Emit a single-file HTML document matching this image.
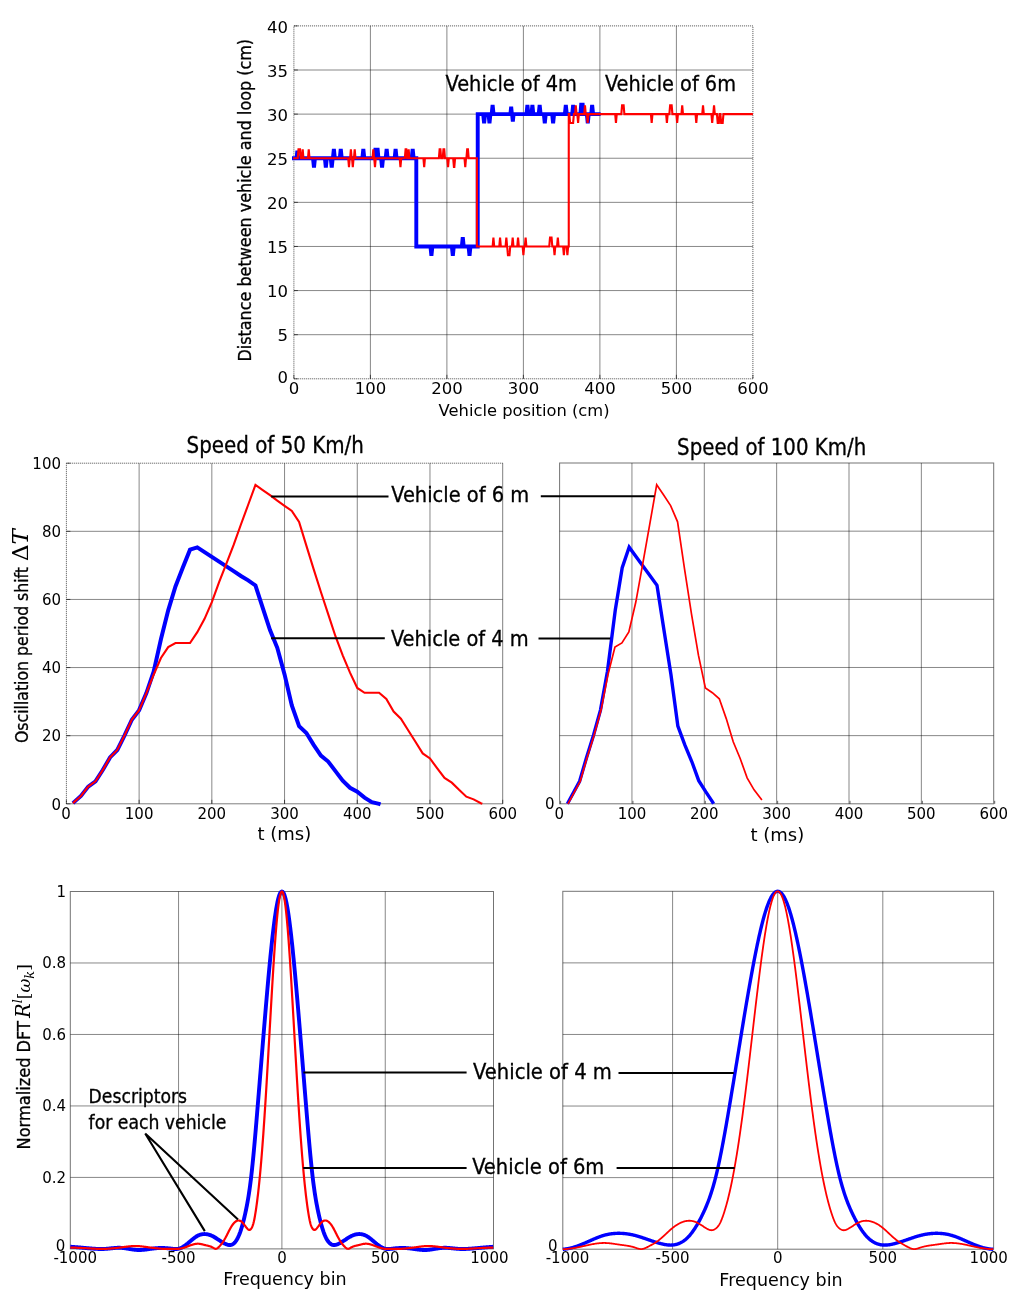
<!DOCTYPE html>
<html lang="en"><head><meta charset="utf-8"><title>Vehicle inductive loop signatures</title>
<style>html,body{margin:0;padding:0;background:#fff}svg{display:block}text{fill:#000}</style>
</head><body>
<svg width="1024" height="1303" viewBox="0 0 1024 1303">
<rect width="1024" height="1303" fill="#fff"/>
<path d="M370.4 25.9V378.8M446.9 25.9V378.8M523.4 25.9V378.8M599.9 25.9V378.8M676.4 25.9V378.8M293.9 334.69H752.9M293.9 290.57H752.9M293.9 246.46H752.9M293.9 202.35H752.9M293.9 158.24H752.9M293.9 114.12H752.9M293.9 70.01H752.9" stroke="#000" stroke-opacity="0.47" stroke-width="1" fill="none"/>
<rect x="293.9" y="25.9" width="459" height="352.9" fill="none" stroke="#000" stroke-width="1" stroke-dasharray="1 1" stroke-opacity="0.7"/>
<path d="M293.9 378.8v-4M370.4 378.8v-4M446.9 378.8v-4M523.4 378.8v-4M599.9 378.8v-4M676.4 378.8v-4M752.9 378.8v-4M293.9 378.8h4M293.9 334.69h4M293.9 290.57h4M293.9 246.46h4M293.9 202.35h4M293.9 158.24h4M293.9 114.12h4M293.9 70.01h4M293.9 25.9h4" stroke="#000" stroke-width="0.6" fill="none"/>
<path d="M291.99 158.24 L296.58 158.24 L297.34 150.74 L298.11 158.24 L313.02 158.24 L313.79 165.74 L314.17 165.74 L314.94 158.24 L324.88 158.24 L325.65 165.74 L326.03 165.74 L326.79 158.24 L330.77 158.24 L331.54 165.74 L331.92 165.74 L332.69 158.24 L332.91 158.24 L333.68 150.74 L334.06 150.74 L334.83 158.24 L339.8 158.24 L340.56 150.74 L340.95 150.74 L341.71 158.24 L362.37 158.24 L363.13 150.74 L363.51 150.74 L364.28 158.24 L374.61 158.24 L375.37 149.61 L377.67 149.61 L378.43 158.24 L381.11 158.24 L381.88 165.74 L382.26 165.74 L383.02 158.24 L385.7 158.24 L386.46 150.74 L386.85 150.74 L387.61 158.24 L394.65 158.24 L395.42 150.74 L395.8 150.74 L396.56 158.24 L411.71 158.24 L412.47 150.74 L412.86 150.74 L413.62 158.24 L416.3 158.24 L416.3 246.46 L430.45 246.46 L431.22 253.96 L431.6 253.96 L432.37 246.46 L451.87 246.46 L452.64 253.96 L453.02 253.96 L453.78 246.46 L461.82 246.46 L462.58 238.96 L462.96 238.96 L463.73 246.46 L468.55 246.46 L469.31 253.96 L469.7 253.96 L470.46 246.46 L477.73 246.46 L477.73 114.12 L483.16 114.12 L483.93 121.62 L484.31 121.62 L485.07 114.12 L488.52 114.12 L489.28 121.62 L489.66 121.62 L490.43 114.12 L491.65 114.12 L492.42 106.63 L492.8 106.63 L493.56 114.12 L510.39 114.12 L511.16 106.63 L511.92 114.12 L512.08 114.12 L512.84 121.62 L513.61 114.12 L526.46 114.12 L527.22 106.63 L527.61 106.63 L528.37 114.12 L531.43 114.12 L532.2 106.63 L532.58 106.63 L533.35 114.12 L538.7 114.12 L539.46 106.63 L539.85 106.63 L540.61 114.12 L543.83 114.12 L544.59 121.62 L544.97 121.62 L545.74 114.12 L552.16 114.12 L552.93 121.62 L553.31 121.62 L554.08 114.12 L564.86 114.12 L565.63 106.63 L566.01 106.63 L566.78 114.12 L572.21 114.12 L572.97 106.63 L573.35 106.63 L574.12 114.12 L580.39 114.12 L581.16 104.75 L582.69 104.75 L583.45 114.12 L586.82 114.12 L587.58 121.62 L587.97 121.62 L588.73 114.12 L591.18 114.12 L591.94 106.63 L592.33 106.63 L593.09 114.12 L600.66 114.12" stroke="#0000ff" stroke-width="3.9" fill="none" stroke-linejoin="miter" stroke-miterlimit="2" stroke-linecap="butt"/>
<path d="M293.13 158.24 L297.72 158.24 L298.49 149.41 L300.02 149.41 L300.78 158.24 L301.93 158.24 L302.7 149.41 L303.46 158.24 L307.98 158.24 L308.74 149.41 L309.51 158.24 L348.21 158.24 L348.98 167.06 L349.75 158.24 L350.13 158.24 L350.89 149.41 L351.66 158.24 L352.04 158.24 L352.8 167.06 L353.57 158.24 L353.95 158.24 L354.72 149.41 L355.48 158.24 L372.54 158.24 L373.31 149.41 L374.07 158.24 L374.22 158.24 L374.99 167.06 L375.75 158.24 L399.7 158.24 L400.46 167.06 L401.23 158.24 L404.82 158.24 L405.59 149.41 L406.35 149.41 L407.12 158.24 L407.88 158.24 L408.65 149.41 L409.41 158.24 L423.41 158.24 L424.18 167.06 L424.94 158.24 L438.87 158.24 L439.63 149.41 L440.4 149.41 L441.16 158.24 L442.69 158.24 L443.46 149.41 L444.22 149.41 L444.99 158.24 L447.28 158.24 L448.05 167.06 L448.81 158.24 L453.17 158.24 L453.94 167.06 L454.32 167.06 L455.09 158.24 L464.5 158.24 L465.26 167.06 L466.02 158.24 L466.41 158.24 L467.17 149.41 L467.94 149.41 L468.7 158.24 L476.89 158.24 L476.89 246.46 L492.65 246.46 L493.41 237.64 L494.18 246.46 L499.3 246.46 L500.07 237.64 L500.83 246.46 L505.58 246.46 L506.34 237.64 L507.11 246.46 L507.18 246.46 L507.95 255.28 L509.48 255.28 L510.24 246.46 L511.92 246.46 L512.69 237.64 L513.45 246.46 L517.28 246.46 L518.04 237.64 L518.81 246.46 L522.63 246.46 L523.4 255.28 L524.16 246.46 L524.85 246.46 L525.62 237.64 L526.38 246.46 L549.26 246.46 L550.02 237.64 L551.55 237.64 L552.32 246.46 L553.77 246.46 L554.54 255.28 L555.3 246.46 L557.06 246.46 L557.83 237.64 L558.59 246.46 L563.1 246.46 L563.87 255.28 L564.63 246.46 L566.62 246.46 L567.39 255.28 L568.15 246.46 L568.76 246.46 L568.76 114.12 L569.3 114.12 L570.07 122.95 L573.12 122.95 L573.89 114.12 L575.04 114.12 L575.8 105.3 L576.57 114.12 L577.33 114.12 L578.1 122.95 L578.86 114.12 L584.22 114.12 L584.98 105.3 L585.75 114.12 L586.89 114.12 L587.66 122.95 L588.42 114.12 L615.2 114.12 L615.96 122.95 L616.73 114.12 L621.32 114.12 L622.09 105.3 L623.62 105.3 L624.38 114.12 L650.93 114.12 L651.69 122.95 L652.46 114.12 L666.15 114.12 L666.91 122.95 L667.68 114.12 L669.36 114.12 L670.13 105.3 L671.66 105.3 L672.42 114.12 L676.4 114.12 L677.16 122.95 L677.93 114.12 L681.45 114.12 L682.21 105.3 L682.98 114.12 L695.52 114.12 L696.29 122.95 L697.05 114.12 L702.26 114.12 L703.02 105.3 L703.79 114.12 L711.44 114.12 L712.2 122.95 L712.97 114.12 L713.27 114.12 L714.04 105.3 L714.8 114.12 L716.94 114.12 L717.71 122.95 L718.86 122.95 L719.62 114.12 L720.39 114.12 L721.15 122.95 L722.68 122.95 L723.45 114.12 L752.9 114.12" stroke="#ff0000" stroke-width="2.1" fill="none" stroke-linejoin="miter" stroke-miterlimit="2" stroke-linecap="butt"/>
<text x="288" y="383.3" font-family='"DejaVu Sans","Liberation Sans",sans-serif' font-size="16.5" text-anchor="end" >0</text>
<text x="288" y="341.49" font-family='"DejaVu Sans","Liberation Sans",sans-serif' font-size="16.5" text-anchor="end" >5</text>
<text x="288" y="297.38" font-family='"DejaVu Sans","Liberation Sans",sans-serif' font-size="16.5" text-anchor="end" >10</text>
<text x="288" y="253.26" font-family='"DejaVu Sans","Liberation Sans",sans-serif' font-size="16.5" text-anchor="end" >15</text>
<text x="288" y="209.15" font-family='"DejaVu Sans","Liberation Sans",sans-serif' font-size="16.5" text-anchor="end" >20</text>
<text x="288" y="165.04" font-family='"DejaVu Sans","Liberation Sans",sans-serif' font-size="16.5" text-anchor="end" >25</text>
<text x="288" y="120.92" font-family='"DejaVu Sans","Liberation Sans",sans-serif' font-size="16.5" text-anchor="end" >30</text>
<text x="288" y="76.81" font-family='"DejaVu Sans","Liberation Sans",sans-serif' font-size="16.5" text-anchor="end" >35</text>
<text x="288" y="32.7" font-family='"DejaVu Sans","Liberation Sans",sans-serif' font-size="16.5" text-anchor="end" >40</text>
<text x="293.9" y="393.6" font-family='"DejaVu Sans","Liberation Sans",sans-serif' font-size="16.5" text-anchor="middle" >0</text>
<text x="370.4" y="393.6" font-family='"DejaVu Sans","Liberation Sans",sans-serif' font-size="16.5" text-anchor="middle" >100</text>
<text x="446.9" y="393.6" font-family='"DejaVu Sans","Liberation Sans",sans-serif' font-size="16.5" text-anchor="middle" >200</text>
<text x="523.4" y="393.6" font-family='"DejaVu Sans","Liberation Sans",sans-serif' font-size="16.5" text-anchor="middle" >300</text>
<text x="599.9" y="393.6" font-family='"DejaVu Sans","Liberation Sans",sans-serif' font-size="16.5" text-anchor="middle" >400</text>
<text x="676.4" y="393.6" font-family='"DejaVu Sans","Liberation Sans",sans-serif' font-size="16.5" text-anchor="middle" >500</text>
<text x="752.9" y="393.6" font-family='"DejaVu Sans","Liberation Sans",sans-serif' font-size="16.5" text-anchor="middle" >600</text>
<text x="524.1" y="415.6" font-family='"DejaVu Sans","Liberation Sans",sans-serif' font-size="16.5" text-anchor="middle" textLength="171" lengthAdjust="spacingAndGlyphs" >Vehicle position (cm)</text>
<text transform="translate(250.9 361.6) rotate(-90)" font-family='"DejaVu Sans Condensed","DejaVu Sans","Liberation Sans",sans-serif' font-size="17.8" text-anchor="start" textLength="322.7" lengthAdjust="spacingAndGlyphs" stroke="#000" stroke-width="0.3">Distance between vehicle and loop (cm)</text>
<text x="445.6" y="91.3" font-family='"DejaVu Sans Condensed","DejaVu Sans","Liberation Sans",sans-serif' font-size="22" text-anchor="start" textLength="131.3" lengthAdjust="spacingAndGlyphs"  stroke="#000" stroke-width="0.3">Vehicle of 4m</text>
<text x="605" y="91.3" font-family='"DejaVu Sans Condensed","DejaVu Sans","Liberation Sans",sans-serif' font-size="22" text-anchor="start" textLength="131" lengthAdjust="spacingAndGlyphs"  stroke="#000" stroke-width="0.3">Vehicle of 6m</text>
<path d="M139.12 463.2V803.8M211.83 463.2V803.8M284.55 463.2V803.8M357.27 463.2V803.8M429.98 463.2V803.8M66.4 735.68H502.7M66.4 667.56H502.7M66.4 599.44H502.7M66.4 531.32H502.7" stroke="#000" stroke-opacity="0.47" stroke-width="1" fill="none"/>
<path d="M66.4 803.8V463.2H502.7" fill="none" stroke="#000" stroke-width="1" stroke-dasharray="1 1" stroke-opacity="0.7"/>
<path d="M66.4 803.8H502.7V463.2" fill="none" stroke="#000" stroke-width="1" stroke-opacity="0.5"/>
<path d="M66.4 803.8v-4M139.12 803.8v-4M211.83 803.8v-4M284.55 803.8v-4M357.27 803.8v-4M429.98 803.8v-4M502.7 803.8v-4M66.4 803.8h4M66.4 735.68h4M66.4 667.56h4M66.4 599.44h4M66.4 531.32h4M66.4 463.2h4" stroke="#000" stroke-width="0.6" fill="none"/>
<path d="M72.94 803.12 L80.94 795.97 L88.22 786.6 L95.49 781.32 L102.76 770.08 L110.03 757.48 L117.3 749.99 L124.57 735.34 L131.84 719.67 L139.12 710.13 L146.39 693.11 L153.66 671.65 L160.93 639.29 L168.2 610.34 L175.47 586.5 L182.75 567.76 L190.02 549.71 L197.29 547.33 L204.56 552.1 L211.83 556.87 L219.1 561.63 L226.38 566.4 L233.65 571.17 L240.92 575.94 L248.19 580.37 L255.46 585.48 L262.74 607.95 L270.01 630.09 L277.28 647.81 L284.55 674.37 L291.82 705.37 L299.09 726.14 L306.36 732.96 L313.64 744.88 L320.91 755.61 L328.18 761.57 L335.45 771.1 L342.72 780.64 L350 787.79 L357.27 791.71 L364.54 797.67 L371.81 802.1 L379.08 803.8 L380.54 804.31" stroke="#0000ff" stroke-width="4.0" fill="none" stroke-linejoin="miter" stroke-miterlimit="4" stroke-linecap="butt"/>
<path d="M72.94 803.12 L80.94 795.97 L88.22 786.6 L95.49 781.32 L102.76 770.08 L110.03 757.48 L117.3 749.99 L124.57 735.34 L131.84 719.67 L139.12 710.13 L146.39 693.11 L153.66 674.71 L160.93 658.02 L168.2 647.12 L175.47 643.04 L182.75 643.04 L190.02 643.04 L197.29 632.14 L204.56 618.85 L211.83 602.16 L219.1 582.07 L226.38 563.68 L233.65 544.94 L240.92 524.51 L248.19 504.75 L255.46 485 L262.74 490.11 L270.01 495.22 L277.28 500.67 L284.55 505.77 L291.82 510.88 L299.09 521.95 L306.36 545.63 L313.64 569.13 L320.91 591.95 L328.18 614.09 L335.45 636.22 L342.72 655.3 L350 672.67 L357.27 688 L364.54 692.76 L371.81 692.76 L379.08 692.76 L386.35 698.9 L393.62 711.5 L400.9 718.65 L408.17 730.23 L415.44 741.81 L422.71 753.39 L429.98 758.5 L437.25 768.38 L444.53 777.91 L451.8 782.68 L459.07 789.84 L466.34 796.65 L473.61 799.37 L480.88 803.29 L482.34 803.8" stroke="#ff0000" stroke-width="2.1" fill="none" stroke-linejoin="miter" stroke-miterlimit="4" stroke-linecap="butt"/>
<path d="M271.2 496.4H388.5" stroke="#000" stroke-width="2" fill="none"/>
<path d="M271.1 638.2H384.8" stroke="#000" stroke-width="2" fill="none"/>
<text x="61" y="810" font-family='"DejaVu Sans","Liberation Sans",sans-serif' font-size="15" text-anchor="end" >0</text>
<text x="61" y="741.48" font-family='"DejaVu Sans","Liberation Sans",sans-serif' font-size="15" text-anchor="end" >20</text>
<text x="61" y="673.36" font-family='"DejaVu Sans","Liberation Sans",sans-serif' font-size="15" text-anchor="end" >40</text>
<text x="61" y="605.24" font-family='"DejaVu Sans","Liberation Sans",sans-serif' font-size="15" text-anchor="end" >60</text>
<text x="61" y="537.12" font-family='"DejaVu Sans","Liberation Sans",sans-serif' font-size="15" text-anchor="end" >80</text>
<text x="61" y="469" font-family='"DejaVu Sans","Liberation Sans",sans-serif' font-size="15" text-anchor="end" >100</text>
<text x="66.1" y="818.5" font-family='"DejaVu Sans","Liberation Sans",sans-serif' font-size="15" text-anchor="middle" >0</text>
<text x="139.12" y="818.5" font-family='"DejaVu Sans","Liberation Sans",sans-serif' font-size="15" text-anchor="middle" >100</text>
<text x="211.83" y="818.5" font-family='"DejaVu Sans","Liberation Sans",sans-serif' font-size="15" text-anchor="middle" >200</text>
<text x="284.55" y="818.5" font-family='"DejaVu Sans","Liberation Sans",sans-serif' font-size="15" text-anchor="middle" >300</text>
<text x="357.27" y="818.5" font-family='"DejaVu Sans","Liberation Sans",sans-serif' font-size="15" text-anchor="middle" >400</text>
<text x="429.98" y="818.5" font-family='"DejaVu Sans","Liberation Sans",sans-serif' font-size="15" text-anchor="middle" >500</text>
<text x="502.7" y="818.5" font-family='"DejaVu Sans","Liberation Sans",sans-serif' font-size="15" text-anchor="middle" >600</text>
<text x="284.4" y="840.4" font-family='"DejaVu Sans","Liberation Sans",sans-serif' font-size="18" text-anchor="middle" >t (ms)</text>
<text x="186.6" y="453.2" font-family='"DejaVu Sans Condensed","DejaVu Sans","Liberation Sans",sans-serif' font-size="22.4" text-anchor="start" textLength="177.3" lengthAdjust="spacingAndGlyphs"  stroke="#000" stroke-width="0.3">Speed of 50 Km/h</text>
<text x="391.3" y="502.3" font-family='"DejaVu Sans Condensed","DejaVu Sans","Liberation Sans",sans-serif' font-size="21.5" text-anchor="start" textLength="137.8" lengthAdjust="spacingAndGlyphs"  stroke="#000" stroke-width="0.3">Vehicle of 6 m</text>
<text x="391" y="645.6" font-family='"DejaVu Sans Condensed","DejaVu Sans","Liberation Sans",sans-serif' font-size="21.5" text-anchor="start" textLength="137.8" lengthAdjust="spacingAndGlyphs"  stroke="#000" stroke-width="0.3">Vehicle of 4 m</text>
<text transform="translate(27.8 743) rotate(-90)" font-family='"DejaVu Sans Condensed","DejaVu Sans","Liberation Sans",sans-serif' font-size="18"><tspan textLength="176" lengthAdjust="spacingAndGlyphs" stroke="#000" stroke-width="0.3">Oscillation period shift</tspan><tspan dx="6" font-family='"DejaVu Serif","Liberation Serif",serif' font-size="23">Δ<tspan font-style="italic">T</tspan></tspan></text>
<path d="M631.95 463V803.8M704.3 463V803.8M776.65 463V803.8M849 463V803.8M921.35 463V803.8M559.6 735.64H993.7M559.6 667.48H993.7M559.6 599.32H993.7M559.6 531.16H993.7" stroke="#000" stroke-opacity="0.47" stroke-width="1" fill="none"/>
<rect x="559.6" y="463" width="434.1" height="340.8" fill="none" stroke="#000" stroke-width="1" stroke-opacity="0.55"/>
<path d="M560.6 803.8v-3M632.95 803.8v-3M705.3 803.8v-3M777.65 803.8v-3M850 803.8v-3M922.35 803.8v-3M994.7 803.8v-3" stroke="#000" stroke-width="0.6" fill="none"/>
<path d="M567.41 803.8 L579.6 781.31 L586.56 757.45 L593.51 735.3 L600.47 710.08 L607.43 671.57 L615.25 610.23 L622.21 567.63 L629.16 547.18 L636.12 556.72 L643.08 566.26 L650.03 575.8 L656.99 585.35 L663.95 629.99 L670.9 674.3 L677.86 726.1 L684.82 744.84 L691.77 761.54 L698.73 780.63 L705.69 791.7 L712.64 802.1 L713.56 803.8" stroke="#0000ff" stroke-width="3.4" fill="none" stroke-linejoin="miter" stroke-miterlimit="4" stroke-linecap="butt"/>
<path d="M567.98 803.8 L580.17 781.31 L587.13 757.45 L594.08 735.3 L601.04 710.08 L608 674.64 L614.95 647.03 L621.91 642.94 L628.86 632.04 L635.82 602.05 L642.78 563.54 L649.73 524.34 L656.69 484.81 L663.65 495.04 L670.6 505.6 L677.56 521.79 L684.52 568.99 L691.47 613.97 L698.43 655.21 L705.39 687.93 L712.34 692.7 L719.3 698.83 L726.25 718.6 L733.21 741.77 L740.17 758.47 L747.12 777.9 L754.08 789.83 L761.88 800.05" stroke="#ff0000" stroke-width="1.7" fill="none" stroke-linejoin="miter" stroke-miterlimit="4" stroke-linecap="butt"/>
<path d="M540.8 496.2H654.5" stroke="#000" stroke-width="2" fill="none"/>
<path d="M538.5 638.4H610.2" stroke="#000" stroke-width="2" fill="none"/>
<text x="554.6" y="809.2" font-family='"DejaVu Sans","Liberation Sans",sans-serif' font-size="15" text-anchor="end" >0</text>
<text x="559.3" y="818.5" font-family='"DejaVu Sans","Liberation Sans",sans-serif' font-size="15" text-anchor="middle" >0</text>
<text x="631.95" y="818.5" font-family='"DejaVu Sans","Liberation Sans",sans-serif' font-size="15" text-anchor="middle" >100</text>
<text x="704.3" y="818.5" font-family='"DejaVu Sans","Liberation Sans",sans-serif' font-size="15" text-anchor="middle" >200</text>
<text x="776.65" y="818.5" font-family='"DejaVu Sans","Liberation Sans",sans-serif' font-size="15" text-anchor="middle" >300</text>
<text x="849" y="818.5" font-family='"DejaVu Sans","Liberation Sans",sans-serif' font-size="15" text-anchor="middle" >400</text>
<text x="921.35" y="818.5" font-family='"DejaVu Sans","Liberation Sans",sans-serif' font-size="15" text-anchor="middle" >500</text>
<text x="993.7" y="818.5" font-family='"DejaVu Sans","Liberation Sans",sans-serif' font-size="15" text-anchor="middle" >600</text>
<text x="777.4" y="841.2" font-family='"DejaVu Sans","Liberation Sans",sans-serif' font-size="18" text-anchor="middle" >t (ms)</text>
<text x="677.1" y="455.2" font-family='"DejaVu Sans Condensed","DejaVu Sans","Liberation Sans",sans-serif' font-size="22.4" text-anchor="start" textLength="189.1" lengthAdjust="spacingAndGlyphs"  stroke="#000" stroke-width="0.3">Speed of 100 Km/h</text>
<path d="M178.55 891.5V1248.9M281.9 891.5V1248.9M385.25 891.5V1248.9M70.3 1177.42H493.5M70.3 1105.94H493.5M70.3 1034.46H493.5M70.3 962.98H493.5" stroke="#000" stroke-opacity="0.47" stroke-width="1" fill="none"/>
<rect x="70.3" y="891.5" width="423.2" height="357.4" fill="none" stroke="#000" stroke-width="1" stroke-opacity="0.55"/>
<path d="M70.3 1246.74 L70.71 1246.77 L71.13 1246.8 L71.54 1246.82 L71.95 1246.86 L72.37 1246.89 L72.78 1246.92 L73.19 1246.95 L73.61 1246.98 L74.02 1247.01 L74.43 1247.04 L74.85 1247.08 L75.26 1247.11 L75.67 1247.14 L76.09 1247.18 L76.5 1247.21 L76.91 1247.24 L77.33 1247.28 L77.74 1247.31 L78.15 1247.35 L78.57 1247.38 L78.98 1247.42 L79.39 1247.45 L79.81 1247.49 L80.22 1247.53 L80.64 1247.56 L81.05 1247.6 L81.46 1247.63 L81.88 1247.67 L82.29 1247.71 L82.7 1247.74 L83.12 1247.78 L83.53 1247.82 L83.94 1247.85 L84.36 1247.89 L84.77 1247.93 L85.18 1247.97 L85.6 1248 L86.01 1248.04 L86.42 1248.08 L86.84 1248.12 L87.25 1248.15 L87.66 1248.19 L88.08 1248.23 L88.49 1248.27 L88.9 1248.3 L89.32 1248.34 L89.73 1248.38 L90.14 1248.41 L90.56 1248.45 L90.97 1248.48 L91.38 1248.52 L91.8 1248.55 L92.21 1248.59 L92.62 1248.62 L93.04 1248.65 L93.45 1248.68 L93.86 1248.71 L94.28 1248.74 L94.69 1248.77 L95.1 1248.79 L95.52 1248.82 L95.93 1248.84 L96.34 1248.87 L96.76 1248.89 L97.17 1248.91 L97.58 1248.92 L98 1248.94 L98.41 1248.95 L98.82 1248.97 L99.24 1248.98 L99.65 1248.99 L100.06 1248.99 L100.48 1249 L100.89 1249 L101.31 1249 L101.72 1249 L102.13 1248.99 L102.55 1248.98 L102.96 1248.97 L103.37 1248.96 L103.79 1248.95 L104.2 1248.93 L104.61 1248.91 L105.03 1248.88 L105.44 1248.86 L105.85 1248.83 L106.27 1248.8 L106.68 1248.76 L107.09 1248.73 L107.51 1248.69 L107.92 1248.65 L108.33 1248.61 L108.75 1248.57 L109.16 1248.53 L109.57 1248.49 L109.99 1248.44 L110.4 1248.4 L110.81 1248.36 L111.23 1248.31 L111.64 1248.27 L112.05 1248.23 L112.47 1248.19 L112.88 1248.15 L113.29 1248.11 L113.71 1248.07 L114.12 1248.03 L114.53 1248 L114.95 1247.96 L115.36 1247.93 L115.77 1247.9 L116.19 1247.88 L116.6 1247.86 L117.01 1247.84 L117.43 1247.82 L117.84 1247.81 L118.25 1247.8 L118.67 1247.79 L119.08 1247.79 L119.49 1247.79 L119.91 1247.8 L120.32 1247.81 L120.73 1247.83 L121.15 1247.85 L121.56 1247.88 L121.98 1247.91 L122.39 1247.95 L122.8 1247.99 L123.22 1248.03 L123.63 1248.08 L124.04 1248.13 L124.46 1248.18 L124.87 1248.24 L125.28 1248.3 L125.7 1248.36 L126.11 1248.42 L126.52 1248.49 L126.94 1248.55 L127.35 1248.62 L127.76 1248.69 L128.18 1248.76 L128.59 1248.83 L129 1248.9 L129.42 1248.97 L129.83 1249.04 L130.24 1249.11 L130.66 1249.18 L131.07 1249.24 L131.48 1249.31 L131.9 1249.38 L132.31 1249.44 L132.72 1249.5 L133.14 1249.56 L133.55 1249.61 L133.96 1249.67 L134.38 1249.72 L134.79 1249.77 L135.2 1249.81 L135.62 1249.85 L136.03 1249.89 L136.44 1249.92 L136.86 1249.94 L137.27 1249.97 L137.68 1249.98 L138.1 1249.99 L138.51 1250 L138.92 1250 L139.34 1250 L139.75 1250 L140.16 1249.99 L140.58 1249.97 L140.99 1249.95 L141.4 1249.93 L141.82 1249.91 L142.23 1249.88 L142.65 1249.84 L143.06 1249.81 L143.47 1249.77 L143.89 1249.73 L144.3 1249.69 L144.71 1249.65 L145.13 1249.6 L145.54 1249.55 L145.95 1249.5 L146.37 1249.45 L146.78 1249.39 L147.19 1249.34 L147.61 1249.28 L148.02 1249.23 L148.43 1249.17 L148.85 1249.11 L149.26 1249.06 L149.67 1249 L150.09 1248.94 L150.5 1248.88 L150.91 1248.83 L151.33 1248.77 L151.74 1248.71 L152.15 1248.66 L152.57 1248.6 L152.98 1248.55 L153.39 1248.5 L153.81 1248.45 L154.22 1248.4 L154.63 1248.36 L155.05 1248.31 L155.46 1248.27 L155.87 1248.23 L156.29 1248.2 L156.7 1248.16 L157.11 1248.13 L157.53 1248.11 L157.94 1248.08 L158.35 1248.06 L158.77 1248.04 L159.18 1248.02 L159.59 1248.01 L160.01 1248 L160.42 1247.99 L160.83 1247.99 L161.25 1247.98 L161.66 1247.98 L162.07 1247.99 L162.49 1247.99 L162.9 1248 L163.31 1248.01 L163.73 1248.02 L164.14 1248.04 L164.56 1248.06 L164.97 1248.08 L165.38 1248.1 L165.8 1248.12 L166.21 1248.15 L166.62 1248.18 L167.04 1248.21 L167.45 1248.25 L167.86 1248.28 L168.28 1248.32 L168.69 1248.36 L169.1 1248.41 L169.52 1248.45 L169.93 1248.5 L170.34 1248.55 L170.76 1248.6 L171.17 1248.65 L171.58 1248.71 L172 1248.76 L172.41 1248.81 L172.82 1248.86 L173.24 1248.9 L173.65 1248.94 L174.06 1248.97 L174.48 1249 L174.89 1249.02 L175.3 1249.03 L175.72 1249.03 L176.13 1249.03 L176.54 1249.01 L176.96 1248.97 L177.37 1248.93 L177.78 1248.87 L178.2 1248.8 L178.61 1248.71 L179.02 1248.6 L179.44 1248.48 L179.85 1248.34 L180.26 1248.19 L180.68 1248.02 L181.09 1247.84 L181.5 1247.64 L181.92 1247.43 L182.33 1247.21 L182.74 1246.97 L183.16 1246.73 L183.57 1246.47 L183.99 1246.2 L184.4 1245.93 L184.81 1245.64 L185.23 1245.34 L185.64 1245.04 L186.05 1244.73 L186.47 1244.41 L186.88 1244.08 L187.29 1243.75 L187.71 1243.42 L188.12 1243.08 L188.53 1242.73 L188.95 1242.39 L189.36 1242.04 L189.77 1241.68 L190.19 1241.33 L190.6 1240.98 L191.01 1240.63 L191.43 1240.28 L191.84 1239.93 L192.25 1239.58 L192.67 1239.24 L193.08 1238.9 L193.49 1238.57 L193.91 1238.25 L194.32 1237.93 L194.73 1237.62 L195.15 1237.32 L195.56 1237.03 L195.97 1236.75 L196.39 1236.49 L196.8 1236.24 L197.21 1236 L197.63 1235.78 L198.04 1235.57 L198.45 1235.38 L198.87 1235.2 L199.28 1235.03 L199.69 1234.88 L200.11 1234.74 L200.52 1234.62 L200.93 1234.51 L201.35 1234.41 L201.76 1234.33 L202.17 1234.25 L202.59 1234.19 L203 1234.14 L203.41 1234.11 L203.83 1234.08 L204.24 1234.07 L204.66 1234.07 L205.07 1234.08 L205.48 1234.1 L205.9 1234.13 L206.31 1234.17 L206.72 1234.22 L207.14 1234.29 L207.55 1234.36 L207.96 1234.45 L208.38 1234.54 L208.79 1234.65 L209.2 1234.77 L209.62 1234.9 L210.03 1235.04 L210.44 1235.19 L210.86 1235.35 L211.27 1235.52 L211.68 1235.7 L212.1 1235.9 L212.51 1236.1 L212.92 1236.31 L213.34 1236.53 L213.75 1236.76 L214.16 1237 L214.58 1237.24 L214.99 1237.49 L215.4 1237.75 L215.82 1238.01 L216.23 1238.27 L216.64 1238.54 L217.06 1238.81 L217.47 1239.08 L217.88 1239.35 L218.3 1239.63 L218.71 1239.9 L219.12 1240.18 L219.54 1240.45 L219.95 1240.72 L220.36 1240.99 L220.78 1241.25 L221.19 1241.52 L221.6 1241.78 L222.02 1242.03 L222.43 1242.28 L222.84 1242.52 L223.26 1242.76 L223.67 1242.99 L224.08 1243.22 L224.5 1243.44 L224.91 1243.65 L225.33 1243.85 L225.74 1244.04 L226.15 1244.22 L226.57 1244.38 L226.98 1244.53 L227.39 1244.67 L227.81 1244.79 L228.22 1244.88 L228.63 1244.96 L229.05 1245.01 L229.46 1245.04 L229.87 1245.04 L230.29 1245.01 L230.7 1244.96 L231.11 1244.87 L231.53 1244.75 L231.94 1244.59 L232.35 1244.4 L232.77 1244.17 L233.18 1243.91 L233.59 1243.6 L234.01 1243.25 L234.42 1242.86 L234.83 1242.42 L235.25 1241.93 L235.66 1241.4 L236.07 1240.82 L236.49 1240.19 L236.9 1239.51 L237.31 1238.77 L237.73 1237.98 L238.14 1237.14 L238.55 1236.24 L238.97 1235.28 L239.38 1234.26 L239.79 1233.19 L240.21 1232.05 L240.62 1230.85 L241.03 1229.6 L241.45 1228.28 L241.86 1226.91 L242.27 1225.47 L242.69 1223.98 L243.1 1222.43 L243.51 1220.82 L243.93 1219.16 L244.34 1217.44 L244.75 1215.66 L245.17 1213.82 L245.58 1211.93 L246 1209.97 L246.41 1207.95 L246.82 1205.85 L247.24 1203.66 L247.65 1201.37 L248.06 1198.98 L248.48 1196.48 L248.89 1193.86 L249.3 1191.11 L249.72 1188.22 L250.13 1185.18 L250.54 1182 L250.96 1178.64 L251.37 1175.12 L251.78 1171.43 L252.2 1167.58 L252.61 1163.59 L253.02 1159.46 L253.44 1155.19 L253.85 1150.81 L254.26 1146.33 L254.68 1141.74 L255.09 1137.06 L255.5 1132.31 L255.92 1127.49 L256.33 1122.61 L256.74 1117.68 L257.16 1112.71 L257.57 1107.71 L257.98 1102.69 L258.4 1097.66 L258.81 1092.62 L259.22 1087.56 L259.64 1082.5 L260.05 1077.43 L260.46 1072.36 L260.88 1067.29 L261.29 1062.23 L261.7 1057.16 L262.12 1052.1 L262.53 1047.05 L262.94 1042.01 L263.36 1036.98 L263.77 1031.97 L264.18 1026.98 L264.6 1022 L265.01 1017.06 L265.42 1012.14 L265.84 1007.26 L266.25 1002.42 L266.67 997.62 L267.08 992.87 L267.49 988.17 L267.91 983.53 L268.32 978.94 L268.73 974.42 L269.15 969.97 L269.56 965.59 L269.97 961.28 L270.39 957.05 L270.8 952.91 L271.21 948.86 L271.63 944.91 L272.04 941.06 L272.45 937.31 L272.87 933.67 L273.28 930.15 L273.69 926.75 L274.11 923.47 L274.52 920.33 L274.93 917.32 L275.35 914.45 L275.76 911.73 L276.17 909.16 L276.59 906.75 L277 904.5 L277.41 902.43 L277.83 900.52 L278.24 898.8 L278.65 897.25 L279.07 895.89 L279.48 894.71 L279.89 893.71 L280.31 892.9 L280.72 892.27 L281.13 891.82 L281.55 891.57 L281.96 891.5 L282.37 891.62 L282.79 891.93 L283.2 892.43 L283.61 893.12 L284.03 893.98 L284.44 895.04 L284.85 896.27 L285.27 897.69 L285.68 899.29 L286.09 901.07 L286.51 903.02 L286.92 905.15 L287.33 907.44 L287.75 909.9 L288.16 912.51 L288.58 915.28 L288.99 918.19 L289.4 921.24 L289.82 924.42 L290.23 927.74 L290.64 931.17 L291.06 934.73 L291.47 938.4 L291.88 942.18 L292.3 946.06 L292.71 950.05 L293.12 954.12 L293.54 958.29 L293.95 962.54 L294.36 966.87 L294.78 971.27 L295.19 975.74 L295.6 980.29 L296.02 984.89 L296.43 989.55 L296.84 994.27 L297.26 999.03 L297.67 1003.84 L298.08 1008.7 L298.5 1013.59 L298.91 1018.51 L299.32 1023.46 L299.74 1028.44 L300.15 1033.44 L300.56 1038.46 L300.98 1043.49 L301.39 1048.54 L301.8 1053.59 L302.22 1058.65 L302.63 1063.72 L303.04 1068.79 L303.46 1073.86 L303.87 1078.92 L304.28 1083.99 L304.7 1089.05 L305.11 1094.1 L305.52 1099.14 L305.94 1104.17 L306.35 1109.18 L306.76 1114.17 L307.18 1119.13 L307.59 1124.05 L308 1128.91 L308.42 1133.72 L308.83 1138.45 L309.25 1143.1 L309.66 1147.66 L310.07 1152.11 L310.49 1156.46 L310.9 1160.68 L311.31 1164.78 L311.73 1168.73 L312.14 1172.53 L312.55 1176.18 L312.97 1179.65 L313.38 1182.95 L313.79 1186.09 L314.21 1189.08 L314.62 1191.93 L315.03 1194.64 L315.45 1197.23 L315.86 1199.7 L316.27 1202.05 L316.69 1204.31 L317.1 1206.47 L317.51 1208.55 L317.93 1210.56 L318.34 1212.49 L318.75 1214.37 L319.17 1216.19 L319.58 1217.95 L319.99 1219.65 L320.41 1221.3 L320.82 1222.89 L321.23 1224.43 L321.65 1225.9 L322.06 1227.32 L322.47 1228.67 L322.89 1229.97 L323.3 1231.21 L323.71 1232.39 L324.13 1233.51 L324.54 1234.57 L324.95 1235.57 L325.37 1236.51 L325.78 1237.39 L326.19 1238.22 L326.61 1238.99 L327.02 1239.71 L327.43 1240.38 L327.85 1241 L328.26 1241.56 L328.68 1242.08 L329.09 1242.55 L329.5 1242.98 L329.92 1243.36 L330.33 1243.69 L330.74 1243.99 L331.16 1244.25 L331.57 1244.46 L331.98 1244.64 L332.4 1244.79 L332.81 1244.9 L333.22 1244.98 L333.64 1245.03 L334.05 1245.04 L334.46 1245.03 L334.88 1245 L335.29 1244.94 L335.7 1244.86 L336.12 1244.75 L336.53 1244.63 L336.94 1244.49 L337.36 1244.34 L337.77 1244.17 L338.18 1243.98 L338.6 1243.79 L339.01 1243.59 L339.42 1243.37 L339.84 1243.15 L340.25 1242.93 L340.66 1242.69 L341.08 1242.45 L341.49 1242.21 L341.9 1241.96 L342.32 1241.7 L342.73 1241.44 L343.14 1241.18 L343.56 1240.91 L343.97 1240.64 L344.38 1240.37 L344.8 1240.09 L345.21 1239.82 L345.62 1239.55 L346.04 1239.27 L346.45 1239 L346.86 1238.73 L347.28 1238.46 L347.69 1238.19 L348.1 1237.93 L348.52 1237.67 L348.93 1237.42 L349.35 1237.17 L349.76 1236.93 L350.17 1236.69 L350.59 1236.47 L351 1236.25 L351.41 1236.04 L351.83 1235.84 L352.24 1235.65 L352.65 1235.47 L353.07 1235.3 L353.48 1235.14 L353.89 1235 L354.31 1234.86 L354.72 1234.73 L355.13 1234.62 L355.55 1234.51 L355.96 1234.42 L356.37 1234.34 L356.79 1234.27 L357.2 1234.21 L357.61 1234.16 L358.03 1234.12 L358.44 1234.09 L358.85 1234.07 L359.27 1234.07 L359.68 1234.07 L360.09 1234.09 L360.51 1234.12 L360.92 1234.16 L361.33 1234.21 L361.75 1234.27 L362.16 1234.35 L362.57 1234.44 L362.99 1234.54 L363.4 1234.65 L363.81 1234.78 L364.23 1234.92 L364.64 1235.08 L365.05 1235.25 L365.47 1235.43 L365.88 1235.63 L366.29 1235.84 L366.71 1236.07 L367.12 1236.31 L367.53 1236.57 L367.95 1236.83 L368.36 1237.12 L368.77 1237.41 L369.19 1237.71 L369.6 1238.02 L370.01 1238.34 L370.43 1238.67 L370.84 1239 L371.26 1239.34 L371.67 1239.68 L372.08 1240.03 L372.5 1240.38 L372.91 1240.73 L373.32 1241.08 L373.74 1241.44 L374.15 1241.79 L374.56 1242.14 L374.98 1242.49 L375.39 1242.83 L375.8 1243.18 L376.22 1243.52 L376.63 1243.85 L377.04 1244.18 L377.46 1244.5 L377.87 1244.82 L378.28 1245.13 L378.7 1245.43 L379.11 1245.73 L379.52 1246.01 L379.94 1246.28 L380.35 1246.55 L380.76 1246.8 L381.18 1247.04 L381.59 1247.27 L382 1247.49 L382.42 1247.7 L382.83 1247.89 L383.24 1248.07 L383.66 1248.23 L384.07 1248.38 L384.48 1248.52 L384.9 1248.63 L385.31 1248.74 L385.72 1248.82 L386.14 1248.89 L386.55 1248.94 L386.96 1248.99 L387.38 1249.01 L387.79 1249.03 L388.2 1249.04 L388.62 1249.03 L389.03 1249.02 L389.44 1248.99 L389.86 1248.97 L390.27 1248.93 L390.69 1248.89 L391.1 1248.84 L391.51 1248.8 L391.93 1248.74 L392.34 1248.69 L392.75 1248.64 L393.17 1248.59 L393.58 1248.54 L393.99 1248.49 L394.41 1248.44 L394.82 1248.39 L395.23 1248.35 L395.65 1248.31 L396.06 1248.27 L396.47 1248.24 L396.89 1248.2 L397.3 1248.17 L397.71 1248.14 L398.13 1248.12 L398.54 1248.09 L398.95 1248.07 L399.37 1248.05 L399.78 1248.03 L400.19 1248.02 L400.61 1248.01 L401.02 1248 L401.43 1247.99 L401.85 1247.99 L402.26 1247.98 L402.67 1247.98 L403.09 1247.99 L403.5 1247.99 L403.91 1248 L404.33 1248.01 L404.74 1248.03 L405.15 1248.05 L405.57 1248.07 L405.98 1248.09 L406.39 1248.11 L406.81 1248.14 L407.22 1248.17 L407.63 1248.21 L408.05 1248.24 L408.46 1248.28 L408.87 1248.33 L409.29 1248.37 L409.7 1248.42 L410.11 1248.46 L410.53 1248.52 L410.94 1248.57 L411.36 1248.62 L411.77 1248.67 L412.18 1248.73 L412.6 1248.79 L413.01 1248.84 L413.42 1248.9 L413.84 1248.96 L414.25 1249.01 L414.66 1249.07 L415.08 1249.13 L415.49 1249.19 L415.9 1249.24 L416.32 1249.3 L416.73 1249.36 L417.14 1249.41 L417.56 1249.46 L417.97 1249.51 L418.38 1249.56 L418.8 1249.61 L419.21 1249.66 L419.62 1249.7 L420.04 1249.74 L420.45 1249.78 L420.86 1249.82 L421.28 1249.85 L421.69 1249.89 L422.1 1249.91 L422.52 1249.94 L422.93 1249.96 L423.34 1249.98 L423.76 1249.99 L424.17 1250 L424.58 1250 L425 1250 L425.41 1250 L425.82 1249.99 L426.24 1249.98 L426.65 1249.96 L427.06 1249.94 L427.48 1249.91 L427.89 1249.87 L428.3 1249.84 L428.72 1249.8 L429.13 1249.75 L429.54 1249.7 L429.96 1249.65 L430.37 1249.6 L430.78 1249.54 L431.2 1249.48 L431.61 1249.42 L432.02 1249.36 L432.44 1249.29 L432.85 1249.22 L433.27 1249.16 L433.68 1249.09 L434.09 1249.02 L434.51 1248.95 L434.92 1248.88 L435.33 1248.81 L435.75 1248.74 L436.16 1248.67 L436.57 1248.6 L436.99 1248.53 L437.4 1248.47 L437.81 1248.4 L438.23 1248.34 L438.64 1248.28 L439.05 1248.22 L439.47 1248.17 L439.88 1248.11 L440.29 1248.06 L440.71 1248.02 L441.12 1247.97 L441.53 1247.94 L441.95 1247.9 L442.36 1247.87 L442.77 1247.85 L443.19 1247.83 L443.6 1247.81 L444.01 1247.8 L444.43 1247.79 L444.84 1247.79 L445.25 1247.79 L445.67 1247.8 L446.08 1247.81 L446.49 1247.82 L446.91 1247.84 L447.32 1247.86 L447.73 1247.89 L448.15 1247.91 L448.56 1247.94 L448.97 1247.97 L449.39 1248.01 L449.8 1248.04 L450.21 1248.08 L450.63 1248.12 L451.04 1248.16 L451.45 1248.2 L451.87 1248.24 L452.28 1248.28 L452.69 1248.33 L453.11 1248.37 L453.52 1248.41 L453.94 1248.46 L454.35 1248.5 L454.76 1248.54 L455.18 1248.58 L455.59 1248.63 L456 1248.66 L456.42 1248.7 L456.83 1248.74 L457.24 1248.77 L457.66 1248.81 L458.07 1248.84 L458.48 1248.87 L458.9 1248.89 L459.31 1248.91 L459.72 1248.93 L460.14 1248.95 L460.55 1248.97 L460.96 1248.98 L461.38 1248.99 L461.79 1248.99 L462.2 1249 L462.62 1249 L463.03 1249 L463.44 1249 L463.86 1248.99 L464.27 1248.98 L464.68 1248.97 L465.1 1248.96 L465.51 1248.95 L465.92 1248.94 L466.34 1248.92 L466.75 1248.9 L467.16 1248.88 L467.58 1248.86 L467.99 1248.84 L468.4 1248.81 L468.82 1248.79 L469.23 1248.76 L469.64 1248.73 L470.06 1248.7 L470.47 1248.67 L470.88 1248.64 L471.3 1248.61 L471.71 1248.58 L472.12 1248.54 L472.54 1248.51 L472.95 1248.47 L473.37 1248.44 L473.78 1248.4 L474.19 1248.37 L474.61 1248.33 L475.02 1248.29 L475.43 1248.25 L475.85 1248.22 L476.26 1248.18 L476.67 1248.14 L477.09 1248.1 L477.5 1248.07 L477.91 1248.03 L478.33 1247.99 L478.74 1247.96 L479.15 1247.92 L479.57 1247.88 L479.98 1247.84 L480.39 1247.81 L480.81 1247.77 L481.22 1247.73 L481.63 1247.7 L482.05 1247.66 L482.46 1247.62 L482.87 1247.59 L483.29 1247.55 L483.7 1247.51 L484.11 1247.48 L484.53 1247.44 L484.94 1247.41 L485.35 1247.37 L485.77 1247.34 L486.18 1247.3 L486.59 1247.27 L487.01 1247.23 L487.42 1247.2 L487.83 1247.17 L488.25 1247.13 L488.66 1247.1 L489.07 1247.07 L489.49 1247.03 L489.9 1247 L490.31 1246.97 L490.73 1246.94 L491.14 1246.91 L491.55 1246.88 L491.97 1246.85 L492.38 1246.82 L492.79 1246.79 L493.21 1246.76" stroke="#0000ff" stroke-width="3.9" fill="none" stroke-linejoin="round" stroke-miterlimit="2" stroke-linecap="butt"/>
<path d="M70.3 1247.51 L70.71 1247.53 L71.13 1247.54 L71.54 1247.55 L71.95 1247.57 L72.37 1247.58 L72.78 1247.6 L73.19 1247.61 L73.61 1247.63 L74.02 1247.64 L74.43 1247.66 L74.85 1247.67 L75.26 1247.69 L75.67 1247.71 L76.09 1247.72 L76.5 1247.74 L76.91 1247.76 L77.33 1247.77 L77.74 1247.79 L78.15 1247.81 L78.57 1247.83 L78.98 1247.85 L79.39 1247.87 L79.81 1247.89 L80.22 1247.91 L80.64 1247.93 L81.05 1247.95 L81.46 1247.97 L81.88 1247.99 L82.29 1248.01 L82.7 1248.03 L83.12 1248.05 L83.53 1248.07 L83.94 1248.1 L84.36 1248.12 L84.77 1248.14 L85.18 1248.16 L85.6 1248.19 L86.01 1248.21 L86.42 1248.24 L86.84 1248.26 L87.25 1248.29 L87.66 1248.31 L88.08 1248.34 L88.49 1248.36 L88.9 1248.39 L89.32 1248.41 L89.73 1248.44 L90.14 1248.46 L90.56 1248.49 L90.97 1248.51 L91.38 1248.54 L91.8 1248.56 L92.21 1248.58 L92.62 1248.61 L93.04 1248.63 L93.45 1248.65 L93.86 1248.67 L94.28 1248.69 L94.69 1248.71 L95.1 1248.73 L95.52 1248.75 L95.93 1248.77 L96.34 1248.79 L96.76 1248.8 L97.17 1248.82 L97.58 1248.83 L98 1248.85 L98.41 1248.86 L98.82 1248.87 L99.24 1248.88 L99.65 1248.88 L100.06 1248.89 L100.48 1248.9 L100.89 1248.9 L101.31 1248.9 L101.72 1248.9 L102.13 1248.9 L102.55 1248.9 L102.96 1248.9 L103.37 1248.89 L103.79 1248.88 L104.2 1248.88 L104.61 1248.86 L105.03 1248.85 L105.44 1248.84 L105.85 1248.82 L106.27 1248.81 L106.68 1248.79 L107.09 1248.77 L107.51 1248.75 L107.92 1248.73 L108.33 1248.7 L108.75 1248.68 L109.16 1248.65 L109.57 1248.62 L109.99 1248.59 L110.4 1248.56 L110.81 1248.53 L111.23 1248.5 L111.64 1248.46 L112.05 1248.43 L112.47 1248.39 L112.88 1248.35 L113.29 1248.32 L113.71 1248.28 L114.12 1248.24 L114.53 1248.19 L114.95 1248.15 L115.36 1248.11 L115.77 1248.06 L116.19 1248.02 L116.6 1247.97 L117.01 1247.92 L117.43 1247.88 L117.84 1247.83 L118.25 1247.78 L118.67 1247.73 L119.08 1247.67 L119.49 1247.62 L119.91 1247.57 L120.32 1247.52 L120.73 1247.46 L121.15 1247.41 L121.56 1247.35 L121.98 1247.3 L122.39 1247.24 L122.8 1247.19 L123.22 1247.13 L123.63 1247.07 L124.04 1247.02 L124.46 1246.96 L124.87 1246.91 L125.28 1246.85 L125.7 1246.8 L126.11 1246.75 L126.52 1246.69 L126.94 1246.64 L127.35 1246.59 L127.76 1246.55 L128.18 1246.5 L128.59 1246.45 L129 1246.41 L129.42 1246.37 L129.83 1246.33 L130.24 1246.29 L130.66 1246.25 L131.07 1246.22 L131.48 1246.19 L131.9 1246.16 L132.31 1246.13 L132.72 1246.11 L133.14 1246.09 L133.55 1246.07 L133.96 1246.06 L134.38 1246.05 L134.79 1246.04 L135.2 1246.03 L135.62 1246.03 L136.03 1246.04 L136.44 1246.04 L136.86 1246.05 L137.27 1246.07 L137.68 1246.08 L138.1 1246.11 L138.51 1246.13 L138.92 1246.16 L139.34 1246.19 L139.75 1246.22 L140.16 1246.26 L140.58 1246.3 L140.99 1246.34 L141.4 1246.38 L141.82 1246.42 L142.23 1246.47 L142.65 1246.52 L143.06 1246.57 L143.47 1246.62 L143.89 1246.68 L144.3 1246.73 L144.71 1246.79 L145.13 1246.84 L145.54 1246.9 L145.95 1246.96 L146.37 1247.02 L146.78 1247.07 L147.19 1247.13 L147.61 1247.19 L148.02 1247.25 L148.43 1247.31 L148.85 1247.37 L149.26 1247.42 L149.67 1247.48 L150.09 1247.53 L150.5 1247.59 L150.91 1247.64 L151.33 1247.69 L151.74 1247.75 L152.15 1247.8 L152.57 1247.85 L152.98 1247.9 L153.39 1247.94 L153.81 1247.99 L154.22 1248.04 L154.63 1248.09 L155.05 1248.13 L155.46 1248.18 L155.87 1248.22 L156.29 1248.26 L156.7 1248.31 L157.11 1248.35 L157.53 1248.39 L157.94 1248.43 L158.35 1248.47 L158.77 1248.51 L159.18 1248.55 L159.59 1248.59 L160.01 1248.62 L160.42 1248.66 L160.83 1248.7 L161.25 1248.73 L161.66 1248.77 L162.07 1248.8 L162.49 1248.84 L162.9 1248.87 L163.31 1248.9 L163.73 1248.9 L164.14 1248.9 L164.56 1248.9 L164.97 1248.9 L165.38 1248.9 L165.8 1248.9 L166.21 1248.9 L166.62 1248.9 L167.04 1248.9 L167.45 1248.9 L167.86 1248.9 L168.28 1248.9 L168.69 1248.9 L169.1 1248.9 L169.52 1248.9 L169.93 1248.9 L170.34 1248.9 L170.76 1248.9 L171.17 1248.9 L171.58 1248.9 L172 1248.9 L172.41 1248.9 L172.82 1248.9 L173.24 1248.9 L173.65 1248.9 L174.06 1248.9 L174.48 1248.9 L174.89 1248.9 L175.3 1248.9 L175.72 1248.9 L176.13 1248.9 L176.54 1248.9 L176.96 1248.9 L177.37 1248.9 L177.78 1248.9 L178.2 1248.9 L178.61 1248.89 L179.02 1248.83 L179.44 1248.76 L179.85 1248.69 L180.26 1248.62 L180.68 1248.54 L181.09 1248.45 L181.5 1248.36 L181.92 1248.27 L182.33 1248.17 L182.74 1248.06 L183.16 1247.95 L183.57 1247.84 L183.99 1247.71 L184.4 1247.58 L184.81 1247.45 L185.23 1247.31 L185.64 1247.17 L186.05 1247.02 L186.47 1246.86 L186.88 1246.71 L187.29 1246.55 L187.71 1246.39 L188.12 1246.23 L188.53 1246.06 L188.95 1245.9 L189.36 1245.74 L189.77 1245.58 L190.19 1245.43 L190.6 1245.27 L191.01 1245.13 L191.43 1244.98 L191.84 1244.84 L192.25 1244.71 L192.67 1244.58 L193.08 1244.46 L193.49 1244.34 L193.91 1244.24 L194.32 1244.14 L194.73 1244.05 L195.15 1243.97 L195.56 1243.9 L195.97 1243.84 L196.39 1243.79 L196.8 1243.75 L197.21 1243.73 L197.63 1243.71 L198.04 1243.71 L198.45 1243.73 L198.87 1243.76 L199.28 1243.79 L199.69 1243.85 L200.11 1243.91 L200.52 1243.98 L200.93 1244.05 L201.35 1244.14 L201.76 1244.23 L202.17 1244.33 L202.59 1244.43 L203 1244.53 L203.41 1244.64 L203.83 1244.74 L204.24 1244.85 L204.66 1244.96 L205.07 1245.06 L205.48 1245.16 L205.9 1245.26 L206.31 1245.36 L206.72 1245.45 L207.14 1245.54 L207.55 1245.64 L207.96 1245.74 L208.38 1245.84 L208.79 1245.95 L209.2 1246.07 L209.62 1246.19 L210.03 1246.32 L210.44 1246.47 L210.86 1246.62 L211.27 1246.79 L211.68 1246.97 L212.1 1247.17 L212.51 1247.39 L212.92 1247.62 L213.34 1247.87 L213.75 1248.11 L214.16 1248.33 L214.58 1248.53 L214.99 1248.68 L215.4 1248.78 L215.82 1248.8 L216.23 1248.75 L216.64 1248.61 L217.06 1248.4 L217.47 1248.14 L217.88 1247.82 L218.3 1247.46 L218.71 1247.08 L219.12 1246.67 L219.54 1246.25 L219.95 1245.81 L220.36 1245.35 L220.78 1244.88 L221.19 1244.38 L221.6 1243.86 L222.02 1243.31 L222.43 1242.74 L222.84 1242.15 L223.26 1241.52 L223.67 1240.87 L224.08 1240.19 L224.5 1239.49 L224.91 1238.77 L225.33 1238.03 L225.74 1237.26 L226.15 1236.49 L226.57 1235.69 L226.98 1234.89 L227.39 1234.08 L227.81 1233.25 L228.22 1232.43 L228.63 1231.61 L229.05 1230.79 L229.46 1229.99 L229.87 1229.2 L230.29 1228.44 L230.7 1227.7 L231.11 1226.98 L231.53 1226.31 L231.94 1225.67 L232.35 1225.06 L232.77 1224.49 L233.18 1223.96 L233.59 1223.47 L234.01 1223.01 L234.42 1222.58 L234.83 1222.2 L235.25 1221.85 L235.66 1221.54 L236.07 1221.27 L236.49 1221.03 L236.9 1220.84 L237.31 1220.69 L237.73 1220.58 L238.14 1220.51 L238.55 1220.49 L238.97 1220.51 L239.38 1220.58 L239.79 1220.69 L240.21 1220.85 L240.62 1221.06 L241.03 1221.31 L241.45 1221.62 L241.86 1221.97 L242.27 1222.37 L242.69 1222.81 L243.1 1223.28 L243.51 1223.78 L243.93 1224.3 L244.34 1224.84 L244.75 1225.39 L245.17 1225.95 L245.58 1226.5 L246 1227.05 L246.41 1227.57 L246.82 1228.08 L247.24 1228.55 L247.65 1228.98 L248.06 1229.36 L248.48 1229.66 L248.89 1229.87 L249.3 1229.96 L249.72 1229.91 L250.13 1229.73 L250.54 1229.41 L250.96 1228.96 L251.37 1228.4 L251.78 1227.72 L252.2 1226.9 L252.61 1225.92 L253.02 1224.73 L253.44 1223.3 L253.85 1221.6 L254.26 1219.66 L254.68 1217.51 L255.09 1215.15 L255.5 1212.63 L255.92 1209.96 L256.33 1207.14 L256.74 1204.16 L257.16 1201.02 L257.57 1197.73 L257.98 1194.26 L258.4 1190.63 L258.81 1186.83 L259.22 1182.85 L259.64 1178.69 L260.05 1174.36 L260.46 1169.85 L260.88 1165.16 L261.29 1160.29 L261.7 1155.25 L262.12 1150.02 L262.53 1144.63 L262.94 1139.06 L263.36 1133.32 L263.77 1127.42 L264.18 1121.37 L264.6 1115.16 L265.01 1108.81 L265.42 1102.32 L265.84 1095.7 L266.25 1088.96 L266.67 1082.11 L267.08 1075.16 L267.49 1068.13 L267.91 1061.03 L268.32 1053.86 L268.73 1046.65 L269.15 1039.41 L269.56 1032.15 L269.97 1024.89 L270.39 1017.64 L270.8 1010.44 L271.21 1003.28 L271.63 996.19 L272.04 989.19 L272.45 982.29 L272.87 975.52 L273.28 968.89 L273.69 962.42 L274.11 956.13 L274.52 950.03 L274.93 944.15 L275.35 938.51 L275.76 933.12 L276.17 927.99 L276.59 923.14 L277 918.59 L277.41 914.36 L277.83 910.45 L278.24 906.88 L278.65 903.66 L279.07 900.8 L279.48 898.31 L279.89 896.19 L280.31 894.46 L280.72 893.13 L281.13 892.19 L281.55 891.65 L281.96 891.5 L282.37 891.76 L282.79 892.42 L283.2 893.48 L283.61 894.93 L284.03 896.77 L284.44 899 L284.85 901.6 L285.27 904.57 L285.68 907.89 L286.09 911.57 L286.51 915.57 L286.92 919.9 L287.33 924.54 L287.75 929.47 L288.16 934.68 L288.58 940.15 L288.99 945.86 L289.4 951.8 L289.82 957.96 L290.23 964.3 L290.64 970.82 L291.06 977.49 L291.47 984.31 L291.88 991.24 L292.3 998.27 L292.71 1005.38 L293.12 1012.55 L293.54 1019.77 L293.95 1027.02 L294.36 1034.28 L294.78 1041.54 L295.19 1048.78 L295.6 1055.97 L296.02 1063.12 L296.43 1070.21 L296.84 1077.22 L297.26 1084.14 L297.67 1090.95 L298.08 1097.66 L298.5 1104.24 L298.91 1110.69 L299.32 1117 L299.74 1123.17 L300.15 1129.18 L300.56 1135.03 L300.98 1140.71 L301.39 1146.23 L301.8 1151.58 L302.22 1156.75 L302.63 1161.74 L303.04 1166.56 L303.46 1171.2 L303.87 1175.65 L304.28 1179.93 L304.7 1184.04 L305.11 1187.96 L305.52 1191.72 L305.94 1195.3 L306.35 1198.71 L306.76 1201.96 L307.18 1205.05 L307.59 1207.98 L308 1210.76 L308.42 1213.39 L308.83 1215.86 L309.25 1218.16 L309.66 1220.26 L310.07 1222.13 L310.49 1223.75 L310.9 1225.1 L311.31 1226.23 L311.73 1227.16 L312.14 1227.93 L312.55 1228.58 L312.97 1229.11 L313.38 1229.51 L313.79 1229.8 L314.21 1229.94 L314.62 1229.94 L315.03 1229.82 L315.45 1229.58 L315.86 1229.26 L316.27 1228.86 L316.69 1228.41 L317.1 1227.93 L317.51 1227.42 L317.93 1226.89 L318.34 1226.34 L318.75 1225.79 L319.17 1225.23 L319.58 1224.68 L319.99 1224.15 L320.41 1223.63 L320.82 1223.14 L321.23 1222.68 L321.65 1222.25 L322.06 1221.86 L322.47 1221.52 L322.89 1221.23 L323.3 1220.99 L323.71 1220.8 L324.13 1220.65 L324.54 1220.55 L324.95 1220.5 L325.37 1220.49 L325.78 1220.52 L326.19 1220.6 L326.61 1220.73 L327.02 1220.89 L327.43 1221.1 L327.85 1221.34 L328.26 1221.63 L328.68 1221.95 L329.09 1222.31 L329.5 1222.7 L329.92 1223.14 L330.33 1223.61 L330.74 1224.11 L331.16 1224.66 L331.57 1225.24 L331.98 1225.85 L332.4 1226.5 L332.81 1227.19 L333.22 1227.91 L333.64 1228.66 L334.05 1229.43 L334.46 1230.23 L334.88 1231.03 L335.29 1231.85 L335.7 1232.67 L336.12 1233.5 L336.53 1234.32 L336.94 1235.13 L337.36 1235.93 L337.77 1236.72 L338.18 1237.49 L338.6 1238.25 L339.01 1238.98 L339.42 1239.7 L339.84 1240.39 L340.25 1241.07 L340.66 1241.71 L341.08 1242.33 L341.49 1242.92 L341.9 1243.48 L342.32 1244.02 L342.73 1244.53 L343.14 1245.02 L343.56 1245.49 L343.97 1245.94 L344.38 1246.38 L344.8 1246.79 L345.21 1247.19 L345.62 1247.57 L346.04 1247.92 L346.45 1248.22 L346.86 1248.47 L347.28 1248.66 L347.69 1248.77 L348.1 1248.8 L348.52 1248.76 L348.93 1248.64 L349.35 1248.48 L349.76 1248.27 L350.17 1248.04 L350.59 1247.8 L351 1247.55 L351.41 1247.32 L351.83 1247.11 L352.24 1246.92 L352.65 1246.74 L353.07 1246.58 L353.48 1246.42 L353.89 1246.28 L354.31 1246.15 L354.72 1246.03 L355.13 1245.92 L355.55 1245.81 L355.96 1245.71 L356.37 1245.61 L356.79 1245.52 L357.2 1245.42 L357.61 1245.33 L358.03 1245.23 L358.44 1245.13 L358.85 1245.03 L359.27 1244.93 L359.68 1244.82 L360.09 1244.71 L360.51 1244.61 L360.92 1244.5 L361.33 1244.4 L361.75 1244.3 L362.16 1244.2 L362.57 1244.11 L362.99 1244.03 L363.4 1243.95 L363.81 1243.89 L364.23 1243.83 L364.64 1243.78 L365.05 1243.75 L365.47 1243.72 L365.88 1243.71 L366.29 1243.72 L366.71 1243.73 L367.12 1243.76 L367.53 1243.8 L367.95 1243.85 L368.36 1243.92 L368.77 1243.99 L369.19 1244.07 L369.6 1244.17 L370.01 1244.27 L370.43 1244.38 L370.84 1244.49 L371.26 1244.62 L371.67 1244.75 L372.08 1244.88 L372.5 1245.02 L372.91 1245.17 L373.32 1245.32 L373.74 1245.47 L374.15 1245.63 L374.56 1245.79 L374.98 1245.95 L375.39 1246.11 L375.8 1246.27 L376.22 1246.43 L376.63 1246.59 L377.04 1246.75 L377.46 1246.91 L377.87 1247.06 L378.28 1247.21 L378.7 1247.35 L379.11 1247.49 L379.52 1247.62 L379.94 1247.75 L380.35 1247.87 L380.76 1247.99 L381.18 1248.09 L381.59 1248.2 L382 1248.3 L382.42 1248.39 L382.83 1248.48 L383.24 1248.56 L383.66 1248.64 L384.07 1248.72 L384.48 1248.78 L384.9 1248.85 L385.31 1248.9 L385.72 1248.9 L386.14 1248.9 L386.55 1248.9 L386.96 1248.9 L387.38 1248.9 L387.79 1248.9 L388.2 1248.9 L388.62 1248.9 L389.03 1248.9 L389.44 1248.9 L389.86 1248.9 L390.27 1248.9 L390.69 1248.9 L391.1 1248.9 L391.51 1248.9 L391.93 1248.9 L392.34 1248.9 L392.75 1248.9 L393.17 1248.9 L393.58 1248.9 L393.99 1248.9 L394.41 1248.9 L394.82 1248.9 L395.23 1248.9 L395.65 1248.9 L396.06 1248.9 L396.47 1248.9 L396.89 1248.9 L397.3 1248.9 L397.71 1248.9 L398.13 1248.9 L398.54 1248.9 L398.95 1248.9 L399.37 1248.9 L399.78 1248.9 L400.19 1248.9 L400.61 1248.9 L401.02 1248.86 L401.43 1248.83 L401.85 1248.79 L402.26 1248.76 L402.67 1248.72 L403.09 1248.69 L403.5 1248.65 L403.91 1248.61 L404.33 1248.57 L404.74 1248.54 L405.15 1248.5 L405.57 1248.46 L405.98 1248.42 L406.39 1248.38 L406.81 1248.34 L407.22 1248.29 L407.63 1248.25 L408.05 1248.21 L408.46 1248.16 L408.87 1248.12 L409.29 1248.07 L409.7 1248.03 L410.11 1247.98 L410.53 1247.93 L410.94 1247.88 L411.36 1247.83 L411.77 1247.78 L412.18 1247.73 L412.6 1247.68 L413.01 1247.63 L413.42 1247.57 L413.84 1247.52 L414.25 1247.46 L414.66 1247.41 L415.08 1247.35 L415.49 1247.29 L415.9 1247.23 L416.32 1247.17 L416.73 1247.12 L417.14 1247.06 L417.56 1247 L417.97 1246.94 L418.38 1246.88 L418.8 1246.83 L419.21 1246.77 L419.62 1246.71 L420.04 1246.66 L420.45 1246.61 L420.86 1246.56 L421.28 1246.51 L421.69 1246.46 L422.1 1246.41 L422.52 1246.37 L422.93 1246.32 L423.34 1246.28 L423.76 1246.25 L424.17 1246.21 L424.58 1246.18 L425 1246.15 L425.41 1246.12 L425.82 1246.1 L426.24 1246.08 L426.65 1246.06 L427.06 1246.05 L427.48 1246.04 L427.89 1246.03 L428.3 1246.03 L428.72 1246.03 L429.13 1246.04 L429.54 1246.05 L429.96 1246.06 L430.37 1246.08 L430.78 1246.1 L431.2 1246.12 L431.61 1246.14 L432.02 1246.17 L432.44 1246.2 L432.85 1246.23 L433.27 1246.26 L433.68 1246.3 L434.09 1246.34 L434.51 1246.38 L434.92 1246.42 L435.33 1246.47 L435.75 1246.51 L436.16 1246.56 L436.57 1246.61 L436.99 1246.66 L437.4 1246.71 L437.81 1246.76 L438.23 1246.82 L438.64 1246.87 L439.05 1246.92 L439.47 1246.98 L439.88 1247.03 L440.29 1247.09 L440.71 1247.15 L441.12 1247.2 L441.53 1247.26 L441.95 1247.31 L442.36 1247.37 L442.77 1247.42 L443.19 1247.48 L443.6 1247.53 L444.01 1247.59 L444.43 1247.64 L444.84 1247.69 L445.25 1247.74 L445.67 1247.79 L446.08 1247.84 L446.49 1247.89 L446.91 1247.94 L447.32 1247.98 L447.73 1248.03 L448.15 1248.08 L448.56 1248.12 L448.97 1248.16 L449.39 1248.21 L449.8 1248.25 L450.21 1248.29 L450.63 1248.33 L451.04 1248.37 L451.45 1248.4 L451.87 1248.44 L452.28 1248.47 L452.69 1248.51 L453.11 1248.54 L453.52 1248.57 L453.94 1248.6 L454.35 1248.63 L454.76 1248.66 L455.18 1248.68 L455.59 1248.71 L456 1248.73 L456.42 1248.75 L456.83 1248.78 L457.24 1248.79 L457.66 1248.81 L458.07 1248.83 L458.48 1248.84 L458.9 1248.86 L459.31 1248.87 L459.72 1248.88 L460.14 1248.89 L460.55 1248.89 L460.96 1248.9 L461.38 1248.9 L461.79 1248.9 L462.2 1248.9 L462.62 1248.9 L463.03 1248.9 L463.44 1248.9 L463.86 1248.89 L464.27 1248.88 L464.68 1248.87 L465.1 1248.86 L465.51 1248.85 L465.92 1248.84 L466.34 1248.83 L466.75 1248.81 L467.16 1248.8 L467.58 1248.78 L467.99 1248.77 L468.4 1248.75 L468.82 1248.73 L469.23 1248.71 L469.64 1248.69 L470.06 1248.67 L470.47 1248.65 L470.88 1248.62 L471.3 1248.6 L471.71 1248.58 L472.12 1248.55 L472.54 1248.53 L472.95 1248.51 L473.37 1248.48 L473.78 1248.46 L474.19 1248.43 L474.61 1248.41 L475.02 1248.38 L475.43 1248.36 L475.85 1248.33 L476.26 1248.3 L476.67 1248.28 L477.09 1248.25 L477.5 1248.23 L477.91 1248.21 L478.33 1248.18 L478.74 1248.16 L479.15 1248.13 L479.57 1248.11 L479.98 1248.09 L480.39 1248.07 L480.81 1248.04 L481.22 1248.02 L481.63 1248 L482.05 1247.98 L482.46 1247.96 L482.87 1247.94 L483.29 1247.92 L483.7 1247.9 L484.11 1247.88 L484.53 1247.86 L484.94 1247.84 L485.35 1247.82 L485.77 1247.81 L486.18 1247.79 L486.59 1247.77 L487.01 1247.75 L487.42 1247.74 L487.83 1247.72 L488.25 1247.7 L488.66 1247.69 L489.07 1247.67 L489.49 1247.65 L489.9 1247.64 L490.31 1247.62 L490.73 1247.61 L491.14 1247.59 L491.55 1247.58 L491.97 1247.56 L492.38 1247.55 L492.79 1247.54 L493.21 1247.52" stroke="#ff0000" stroke-width="2.2" fill="none" stroke-linejoin="round" stroke-miterlimit="2" stroke-linecap="butt"/>
<path d="M303.4 1072.4H466.6" stroke="#000" stroke-width="2" fill="none"/>
<path d="M303.2 1167.9H466.6" stroke="#000" stroke-width="2" fill="none"/>
<path d="M145.2 1133.5L204.8 1231.1M145.2 1133.5L238 1219.4" stroke="#000" stroke-width="2.1" fill="none"/>
<text x="66" y="1182.72" font-family='"DejaVu Sans","Liberation Sans",sans-serif' font-size="15" text-anchor="end" >0.2</text>
<text x="66" y="1111.24" font-family='"DejaVu Sans","Liberation Sans",sans-serif' font-size="15" text-anchor="end" >0.4</text>
<text x="66" y="1039.76" font-family='"DejaVu Sans","Liberation Sans",sans-serif' font-size="15" text-anchor="end" >0.6</text>
<text x="66" y="968.28" font-family='"DejaVu Sans","Liberation Sans",sans-serif' font-size="15" text-anchor="end" >0.8</text>
<text x="66" y="896.8" font-family='"DejaVu Sans","Liberation Sans",sans-serif' font-size="15" text-anchor="end" >1</text>
<text x="65.4" y="1250.7" font-family='"DejaVu Sans","Liberation Sans",sans-serif' font-size="15" text-anchor="end" >0</text>
<text x="75.2" y="1263.4" font-family='"DejaVu Sans","Liberation Sans",sans-serif' font-size="15" text-anchor="middle" >-1000</text>
<text x="178.55" y="1263.4" font-family='"DejaVu Sans","Liberation Sans",sans-serif' font-size="15" text-anchor="middle" >-500</text>
<text x="281.9" y="1263.4" font-family='"DejaVu Sans","Liberation Sans",sans-serif' font-size="15" text-anchor="middle" >0</text>
<text x="385.25" y="1263.4" font-family='"DejaVu Sans","Liberation Sans",sans-serif' font-size="15" text-anchor="middle" >500</text>
<text x="489.4" y="1263.4" font-family='"DejaVu Sans","Liberation Sans",sans-serif' font-size="15" text-anchor="middle" >1000</text>
<text x="285" y="1285.2" font-family='"DejaVu Sans","Liberation Sans",sans-serif' font-size="17" text-anchor="middle" textLength="123.3" lengthAdjust="spacingAndGlyphs" >Frequency bin</text>
<text x="88.6" y="1103" font-family='"DejaVu Sans Condensed","DejaVu Sans","Liberation Sans",sans-serif' font-size="18.7" text-anchor="start" textLength="98.4" lengthAdjust="spacingAndGlyphs"  stroke="#000" stroke-width="0.3">Descriptors</text>
<text x="88.6" y="1128.6" font-family='"DejaVu Sans Condensed","DejaVu Sans","Liberation Sans",sans-serif' font-size="18.7" text-anchor="start" textLength="137.7" lengthAdjust="spacingAndGlyphs"  stroke="#000" stroke-width="0.3">for each vehicle</text>
<text x="473.1" y="1078.9" font-family='"DejaVu Sans Condensed","DejaVu Sans","Liberation Sans",sans-serif' font-size="21.5" text-anchor="start" textLength="138.8" lengthAdjust="spacingAndGlyphs"  stroke="#000" stroke-width="0.3">Vehicle of 4 m</text>
<text x="472.2" y="1173.6" font-family='"DejaVu Sans Condensed","DejaVu Sans","Liberation Sans",sans-serif' font-size="21.5" text-anchor="start" textLength="132.2" lengthAdjust="spacingAndGlyphs"  stroke="#000" stroke-width="0.3">Vehicle of 6m</text>
<text transform="translate(29.8 1149.5) rotate(-90)" font-family='"DejaVu Sans Condensed","DejaVu Sans","Liberation Sans",sans-serif' font-size="17.7"><tspan textLength="128.5" lengthAdjust="spacingAndGlyphs" stroke="#000" stroke-width="0.3">Normalized DFT</tspan><tspan dx="3" font-family='"DejaVu Serif","Liberation Serif",serif' font-style="italic" font-size="19.5">R</tspan><tspan dy="-8" font-family='"DejaVu Serif","Liberation Serif",serif' font-style="italic" font-size="13">l</tspan><tspan dy="8" font-family='"DejaVu Serif","Liberation Serif",serif' font-size="17">[<tspan font-style="italic">ω</tspan></tspan><tspan dy="4" font-family='"DejaVu Serif","Liberation Serif",serif' font-style="italic" font-size="13">k</tspan><tspan dy="-4" font-family='"DejaVu Serif","Liberation Serif",serif' font-size="17">]</tspan></text>
<path d="M672.6 891.3V1249.2M777.7 891.3V1249.2M882.8 891.3V1249.2M562.8 1177.62H993.6M562.8 1106.04H993.6M562.8 1034.46H993.6M562.8 962.88H993.6" stroke="#000" stroke-opacity="0.47" stroke-width="1" fill="none"/>
<rect x="562.8" y="891.3" width="430.8" height="357.9" fill="none" stroke="#000" stroke-width="1" stroke-opacity="0.55"/>
<path d="M562.8 1249.24 L563.22 1249.22 L563.64 1249.18 L564.06 1249.15 L564.48 1249.11 L564.9 1249.07 L565.32 1249.02 L565.74 1248.97 L566.16 1248.91 L566.58 1248.85 L567 1248.78 L567.42 1248.71 L567.84 1248.64 L568.27 1248.56 L568.69 1248.48 L569.11 1248.4 L569.53 1248.31 L569.95 1248.21 L570.37 1248.12 L570.79 1248.02 L571.21 1247.91 L571.63 1247.81 L572.05 1247.7 L572.47 1247.58 L572.89 1247.47 L573.31 1247.35 L573.73 1247.22 L574.15 1247.1 L574.57 1246.97 L574.99 1246.83 L575.41 1246.7 L575.83 1246.56 L576.25 1246.42 L576.67 1246.27 L577.09 1246.13 L577.51 1245.98 L577.93 1245.83 L578.35 1245.67 L578.78 1245.52 L579.2 1245.36 L579.62 1245.2 L580.04 1245.03 L580.46 1244.87 L580.88 1244.7 L581.3 1244.53 L581.72 1244.36 L582.14 1244.19 L582.56 1244.02 L582.98 1243.84 L583.4 1243.67 L583.82 1243.49 L584.24 1243.31 L584.66 1243.13 L585.08 1242.95 L585.5 1242.77 L585.92 1242.58 L586.34 1242.4 L586.76 1242.22 L587.18 1242.03 L587.6 1241.84 L588.02 1241.66 L588.44 1241.47 L588.86 1241.29 L589.29 1241.1 L589.71 1240.91 L590.13 1240.72 L590.55 1240.54 L590.97 1240.35 L591.39 1240.16 L591.81 1239.98 L592.23 1239.79 L592.65 1239.61 L593.07 1239.42 L593.49 1239.24 L593.91 1239.06 L594.33 1238.88 L594.75 1238.7 L595.17 1238.52 L595.59 1238.34 L596.01 1238.17 L596.43 1237.99 L596.85 1237.82 L597.27 1237.65 L597.69 1237.48 L598.11 1237.32 L598.53 1237.15 L598.95 1236.99 L599.37 1236.84 L599.8 1236.68 L600.22 1236.53 L600.64 1236.38 L601.06 1236.23 L601.48 1236.09 L601.9 1235.95 L602.32 1235.81 L602.74 1235.68 L603.16 1235.55 L603.58 1235.42 L604 1235.3 L604.42 1235.18 L604.84 1235.07 L605.26 1234.96 L605.68 1234.85 L606.1 1234.75 L606.52 1234.65 L606.94 1234.56 L607.36 1234.47 L607.78 1234.38 L608.2 1234.3 L608.62 1234.22 L609.04 1234.14 L609.46 1234.07 L609.88 1234 L610.31 1233.93 L610.73 1233.87 L611.15 1233.81 L611.57 1233.76 L611.99 1233.7 L612.41 1233.65 L612.83 1233.61 L613.25 1233.57 L613.67 1233.53 L614.09 1233.49 L614.51 1233.46 L614.93 1233.43 L615.35 1233.4 L615.77 1233.38 L616.19 1233.36 L616.61 1233.35 L617.03 1233.33 L617.45 1233.32 L617.87 1233.31 L618.29 1233.31 L618.71 1233.31 L619.13 1233.31 L619.55 1233.31 L619.97 1233.32 L620.39 1233.33 L620.82 1233.34 L621.24 1233.36 L621.66 1233.38 L622.08 1233.4 L622.5 1233.42 L622.92 1233.45 L623.34 1233.48 L623.76 1233.51 L624.18 1233.55 L624.6 1233.59 L625.02 1233.63 L625.44 1233.67 L625.86 1233.72 L626.28 1233.77 L626.7 1233.82 L627.12 1233.88 L627.54 1233.94 L627.96 1234 L628.38 1234.06 L628.8 1234.13 L629.22 1234.2 L629.64 1234.27 L630.06 1234.35 L630.48 1234.42 L630.9 1234.51 L631.33 1234.59 L631.75 1234.68 L632.17 1234.77 L632.59 1234.86 L633.01 1234.95 L633.43 1235.05 L633.85 1235.15 L634.27 1235.26 L634.69 1235.36 L635.11 1235.47 L635.53 1235.58 L635.95 1235.7 L636.37 1235.81 L636.79 1235.93 L637.21 1236.05 L637.63 1236.17 L638.05 1236.3 L638.47 1236.42 L638.89 1236.55 L639.31 1236.68 L639.73 1236.81 L640.15 1236.94 L640.57 1237.08 L640.99 1237.21 L641.41 1237.35 L641.84 1237.49 L642.26 1237.63 L642.68 1237.77 L643.1 1237.91 L643.52 1238.05 L643.94 1238.19 L644.36 1238.34 L644.78 1238.48 L645.2 1238.62 L645.62 1238.77 L646.04 1238.91 L646.46 1239.06 L646.88 1239.21 L647.3 1239.35 L647.72 1239.5 L648.14 1239.64 L648.56 1239.79 L648.98 1239.93 L649.4 1240.08 L649.82 1240.22 L650.24 1240.37 L650.66 1240.51 L651.08 1240.65 L651.5 1240.79 L651.92 1240.94 L652.35 1241.08 L652.77 1241.22 L653.19 1241.35 L653.61 1241.49 L654.03 1241.63 L654.45 1241.76 L654.87 1241.9 L655.29 1242.03 L655.71 1242.16 L656.13 1242.29 L656.55 1242.42 L656.97 1242.54 L657.39 1242.67 L657.81 1242.79 L658.23 1242.91 L658.65 1243.03 L659.07 1243.15 L659.49 1243.27 L659.91 1243.38 L660.33 1243.49 L660.75 1243.6 L661.17 1243.71 L661.59 1243.81 L662.01 1243.91 L662.43 1244.01 L662.86 1244.11 L663.28 1244.2 L663.7 1244.29 L664.12 1244.38 L664.54 1244.46 L664.96 1244.54 L665.38 1244.61 L665.8 1244.68 L666.22 1244.74 L666.64 1244.8 L667.06 1244.85 L667.48 1244.9 L667.9 1244.95 L668.32 1244.98 L668.74 1245.01 L669.16 1245.04 L669.58 1245.06 L670 1245.07 L670.42 1245.08 L670.84 1245.08 L671.26 1245.07 L671.68 1245.05 L672.1 1245.03 L672.52 1245 L672.94 1244.97 L673.37 1244.92 L673.79 1244.87 L674.21 1244.81 L674.63 1244.74 L675.05 1244.66 L675.47 1244.58 L675.89 1244.48 L676.31 1244.38 L676.73 1244.26 L677.15 1244.14 L677.57 1244.01 L677.99 1243.87 L678.41 1243.72 L678.83 1243.55 L679.25 1243.38 L679.67 1243.2 L680.09 1243.01 L680.51 1242.81 L680.93 1242.59 L681.35 1242.37 L681.77 1242.13 L682.19 1241.89 L682.61 1241.63 L683.03 1241.36 L683.45 1241.08 L683.88 1240.78 L684.3 1240.48 L684.72 1240.16 L685.14 1239.83 L685.56 1239.48 L685.98 1239.13 L686.4 1238.76 L686.82 1238.37 L687.24 1237.97 L687.66 1237.56 L688.08 1237.13 L688.5 1236.69 L688.92 1236.24 L689.34 1235.77 L689.76 1235.28 L690.18 1234.79 L690.6 1234.28 L691.02 1233.75 L691.44 1233.22 L691.86 1232.67 L692.28 1232.11 L692.7 1231.53 L693.12 1230.94 L693.54 1230.34 L693.96 1229.73 L694.39 1229.1 L694.81 1228.46 L695.23 1227.81 L695.65 1227.15 L696.07 1226.47 L696.49 1225.78 L696.91 1225.08 L697.33 1224.37 L697.75 1223.64 L698.17 1222.91 L698.59 1222.16 L699.01 1221.39 L699.43 1220.62 L699.85 1219.83 L700.27 1219.03 L700.69 1218.22 L701.11 1217.4 L701.53 1216.56 L701.95 1215.72 L702.37 1214.86 L702.79 1213.98 L703.21 1213.1 L703.63 1212.2 L704.05 1211.29 L704.47 1210.37 L704.9 1209.43 L705.32 1208.47 L705.74 1207.5 L706.16 1206.51 L706.58 1205.5 L707 1204.47 L707.42 1203.42 L707.84 1202.35 L708.26 1201.25 L708.68 1200.14 L709.1 1198.99 L709.52 1197.83 L709.94 1196.63 L710.36 1195.41 L710.78 1194.16 L711.2 1192.88 L711.62 1191.57 L712.04 1190.23 L712.46 1188.86 L712.88 1187.45 L713.3 1186.01 L713.72 1184.53 L714.14 1183.02 L714.56 1181.47 L714.98 1179.88 L715.41 1178.26 L715.83 1176.59 L716.25 1174.88 L716.67 1173.13 L717.09 1171.35 L717.51 1169.52 L717.93 1167.66 L718.35 1165.77 L718.77 1163.83 L719.19 1161.87 L719.61 1159.87 L720.03 1157.84 L720.45 1155.78 L720.87 1153.69 L721.29 1151.57 L721.71 1149.42 L722.13 1147.25 L722.55 1145.04 L722.97 1142.82 L723.39 1140.57 L723.81 1138.29 L724.23 1135.99 L724.65 1133.68 L725.07 1131.34 L725.49 1128.98 L725.92 1126.61 L726.34 1124.22 L726.76 1121.81 L727.18 1119.39 L727.6 1116.95 L728.02 1114.5 L728.44 1112.04 L728.86 1109.57 L729.28 1107.09 L729.7 1104.61 L730.12 1102.11 L730.54 1099.61 L730.96 1097.1 L731.38 1094.59 L731.8 1092.07 L732.22 1089.54 L732.64 1087.01 L733.06 1084.47 L733.48 1081.93 L733.9 1079.39 L734.32 1076.83 L734.74 1074.28 L735.16 1071.72 L735.58 1069.16 L736 1066.59 L736.43 1064.02 L736.85 1061.45 L737.27 1058.88 L737.69 1056.3 L738.11 1053.72 L738.53 1051.15 L738.95 1048.57 L739.37 1045.99 L739.79 1043.41 L740.21 1040.83 L740.63 1038.25 L741.05 1035.68 L741.47 1033.11 L741.89 1030.55 L742.31 1027.99 L742.73 1025.44 L743.15 1022.9 L743.57 1020.36 L743.99 1017.82 L744.41 1015.3 L744.83 1012.78 L745.25 1010.28 L745.67 1007.78 L746.09 1005.29 L746.51 1002.82 L746.94 1000.35 L747.36 997.9 L747.78 995.45 L748.2 993.03 L748.62 990.61 L749.04 988.21 L749.46 985.82 L749.88 983.45 L750.3 981.09 L750.72 978.75 L751.14 976.43 L751.56 974.12 L751.98 971.84 L752.4 969.57 L752.82 967.31 L753.24 965.08 L753.66 962.87 L754.08 960.68 L754.5 958.51 L754.92 956.36 L755.34 954.24 L755.76 952.14 L756.18 950.06 L756.6 948 L757.02 945.97 L757.45 943.97 L757.87 942 L758.29 940.05 L758.71 938.13 L759.13 936.24 L759.55 934.37 L759.97 932.54 L760.39 930.74 L760.81 928.97 L761.23 927.23 L761.65 925.52 L762.07 923.85 L762.49 922.21 L762.91 920.6 L763.33 919.04 L763.75 917.5 L764.17 916.01 L764.59 914.55 L765.01 913.13 L765.43 911.75 L765.85 910.41 L766.27 909.11 L766.69 907.85 L767.11 906.64 L767.53 905.46 L767.96 904.33 L768.38 903.25 L768.8 902.2 L769.22 901.21 L769.64 900.26 L770.06 899.36 L770.48 898.5 L770.9 897.69 L771.32 896.93 L771.74 896.22 L772.16 895.56 L772.58 894.94 L773 894.37 L773.42 893.85 L773.84 893.37 L774.26 892.95 L774.68 892.57 L775.1 892.24 L775.52 891.96 L775.94 891.73 L776.36 891.55 L776.78 891.42 L777.2 891.33 L777.62 891.3 L778.04 891.32 L778.47 891.38 L778.89 891.5 L779.31 891.66 L779.73 891.87 L780.15 892.14 L780.57 892.45 L780.99 892.81 L781.41 893.21 L781.83 893.67 L782.25 894.17 L782.67 894.73 L783.09 895.33 L783.51 895.98 L783.93 896.67 L784.35 897.42 L784.77 898.21 L785.19 899.04 L785.61 899.93 L786.03 900.86 L786.45 901.84 L786.87 902.87 L787.29 903.94 L787.71 905.05 L788.13 906.21 L788.55 907.41 L788.98 908.65 L789.4 909.94 L789.82 911.26 L790.24 912.63 L790.66 914.04 L791.08 915.48 L791.5 916.96 L791.92 918.48 L792.34 920.04 L792.76 921.63 L793.18 923.25 L793.6 924.92 L794.02 926.61 L794.44 928.34 L794.86 930.1 L795.28 931.89 L795.7 933.71 L796.12 935.56 L796.54 937.44 L796.96 939.35 L797.38 941.29 L797.8 943.26 L798.22 945.25 L798.64 947.27 L799.06 949.32 L799.49 951.38 L799.91 953.48 L800.33 955.6 L800.75 957.74 L801.17 959.9 L801.59 962.08 L802.01 964.29 L802.43 966.51 L802.85 968.75 L803.27 971.02 L803.69 973.3 L804.11 975.6 L804.53 977.92 L804.95 980.25 L805.37 982.6 L805.79 984.97 L806.21 987.35 L806.63 989.75 L807.05 992.16 L807.47 994.58 L807.89 997.02 L808.31 999.47 L808.73 1001.93 L809.15 1004.4 L809.57 1006.88 L810 1009.38 L810.42 1011.88 L810.84 1014.39 L811.26 1016.92 L811.68 1019.44 L812.1 1021.98 L812.52 1024.52 L812.94 1027.07 L813.36 1029.63 L813.78 1032.19 L814.2 1034.76 L814.62 1037.33 L815.04 1039.9 L815.46 1042.48 L815.88 1045.06 L816.3 1047.64 L816.72 1050.22 L817.14 1052.8 L817.56 1055.37 L817.98 1057.95 L818.4 1060.53 L818.82 1063.1 L819.24 1065.67 L819.66 1068.23 L820.08 1070.8 L820.51 1073.36 L820.93 1075.92 L821.35 1078.47 L821.77 1081.02 L822.19 1083.56 L822.61 1086.1 L823.03 1088.63 L823.45 1091.16 L823.87 1093.68 L824.29 1096.2 L824.71 1098.71 L825.13 1101.21 L825.55 1103.71 L825.97 1106.2 L826.39 1108.68 L826.81 1111.15 L827.23 1113.62 L827.65 1116.07 L828.07 1118.51 L828.49 1120.94 L828.91 1123.35 L829.33 1125.75 L829.75 1128.13 L830.17 1130.49 L830.59 1132.84 L831.02 1135.16 L831.44 1137.47 L831.86 1139.75 L832.28 1142.01 L832.7 1144.25 L833.12 1146.46 L833.54 1148.64 L833.96 1150.8 L834.38 1152.93 L834.8 1155.03 L835.22 1157.1 L835.64 1159.15 L836.06 1161.15 L836.48 1163.13 L836.9 1165.07 L837.32 1166.98 L837.74 1168.86 L838.16 1170.69 L838.58 1172.49 L839 1174.26 L839.42 1175.98 L839.84 1177.66 L840.26 1179.3 L840.68 1180.9 L841.1 1182.47 L841.53 1183.99 L841.95 1185.48 L842.37 1186.94 L842.79 1188.35 L843.21 1189.74 L843.63 1191.09 L844.05 1192.41 L844.47 1193.7 L844.89 1194.96 L845.31 1196.19 L845.73 1197.4 L846.15 1198.58 L846.57 1199.73 L846.99 1200.85 L847.41 1201.96 L847.83 1203.04 L848.25 1204.1 L848.67 1205.13 L849.09 1206.15 L849.51 1207.15 L849.93 1208.13 L850.35 1209.09 L850.77 1210.03 L851.19 1210.96 L851.61 1211.88 L852.04 1212.78 L852.46 1213.67 L852.88 1214.54 L853.3 1215.41 L853.72 1216.26 L854.14 1217.1 L854.56 1217.93 L854.98 1218.74 L855.4 1219.55 L855.82 1220.34 L856.24 1221.12 L856.66 1221.88 L857.08 1222.64 L857.5 1223.38 L857.92 1224.11 L858.34 1224.83 L858.76 1225.53 L859.18 1226.23 L859.6 1226.91 L860.02 1227.57 L860.44 1228.23 L860.86 1228.87 L861.28 1229.5 L861.7 1230.12 L862.12 1230.73 L862.55 1231.32 L862.97 1231.9 L863.39 1232.47 L863.81 1233.02 L864.23 1233.56 L864.65 1234.09 L865.07 1234.6 L865.49 1235.11 L865.91 1235.59 L866.33 1236.07 L866.75 1236.53 L867.17 1236.98 L867.59 1237.41 L868.01 1237.83 L868.43 1238.23 L868.85 1238.62 L869.27 1238.99 L869.69 1239.36 L870.11 1239.71 L870.53 1240.04 L870.95 1240.36 L871.37 1240.67 L871.79 1240.97 L872.21 1241.26 L872.63 1241.53 L873.06 1241.8 L873.48 1242.05 L873.9 1242.29 L874.32 1242.51 L874.74 1242.73 L875.16 1242.94 L875.58 1243.13 L876 1243.32 L876.42 1243.49 L876.84 1243.66 L877.26 1243.81 L877.68 1243.96 L878.1 1244.09 L878.52 1244.22 L878.94 1244.34 L879.36 1244.44 L879.78 1244.54 L880.2 1244.63 L880.62 1244.71 L881.04 1244.79 L881.46 1244.85 L881.88 1244.91 L882.3 1244.95 L882.72 1244.99 L883.14 1245.02 L883.57 1245.05 L883.99 1245.06 L884.41 1245.07 L884.83 1245.08 L885.25 1245.07 L885.67 1245.06 L886.09 1245.04 L886.51 1245.02 L886.93 1244.99 L887.35 1244.96 L887.77 1244.92 L888.19 1244.87 L888.61 1244.82 L889.03 1244.76 L889.45 1244.7 L889.87 1244.63 L890.29 1244.56 L890.71 1244.49 L891.13 1244.41 L891.55 1244.32 L891.97 1244.24 L892.39 1244.14 L892.81 1244.05 L893.23 1243.95 L893.65 1243.85 L894.08 1243.75 L894.5 1243.64 L894.92 1243.53 L895.34 1243.42 L895.76 1243.31 L896.18 1243.19 L896.6 1243.08 L897.02 1242.96 L897.44 1242.84 L897.86 1242.71 L898.28 1242.59 L898.7 1242.46 L899.12 1242.34 L899.54 1242.21 L899.96 1242.08 L900.38 1241.94 L900.8 1241.81 L901.22 1241.68 L901.64 1241.54 L902.06 1241.4 L902.48 1241.27 L902.9 1241.13 L903.32 1240.99 L903.74 1240.85 L904.16 1240.7 L904.59 1240.56 L905.01 1240.42 L905.43 1240.27 L905.85 1240.13 L906.27 1239.99 L906.69 1239.84 L907.11 1239.69 L907.53 1239.55 L907.95 1239.4 L908.37 1239.26 L908.79 1239.11 L909.21 1238.97 L909.63 1238.82 L910.05 1238.68 L910.47 1238.53 L910.89 1238.39 L911.31 1238.24 L911.73 1238.1 L912.15 1237.96 L912.57 1237.82 L912.99 1237.68 L913.41 1237.54 L913.83 1237.4 L914.25 1237.26 L914.67 1237.13 L915.1 1236.99 L915.52 1236.86 L915.94 1236.73 L916.36 1236.6 L916.78 1236.47 L917.2 1236.34 L917.62 1236.22 L918.04 1236.09 L918.46 1235.97 L918.88 1235.85 L919.3 1235.74 L919.72 1235.62 L920.14 1235.51 L920.56 1235.4 L920.98 1235.29 L921.4 1235.19 L921.82 1235.09 L922.24 1234.99 L922.66 1234.89 L923.08 1234.8 L923.5 1234.71 L923.92 1234.62 L924.34 1234.54 L924.76 1234.45 L925.18 1234.37 L925.61 1234.3 L926.03 1234.22 L926.45 1234.15 L926.87 1234.09 L927.29 1234.02 L927.71 1233.96 L928.13 1233.9 L928.55 1233.84 L928.97 1233.79 L929.39 1233.74 L929.81 1233.69 L930.23 1233.64 L930.65 1233.6 L931.07 1233.56 L931.49 1233.52 L931.91 1233.49 L932.33 1233.46 L932.75 1233.43 L933.17 1233.41 L933.59 1233.38 L934.01 1233.36 L934.43 1233.35 L934.85 1233.33 L935.27 1233.32 L935.69 1233.31 L936.12 1233.31 L936.54 1233.31 L936.96 1233.31 L937.38 1233.31 L937.8 1233.32 L938.22 1233.33 L938.64 1233.34 L939.06 1233.36 L939.48 1233.37 L939.9 1233.4 L940.32 1233.42 L940.74 1233.45 L941.16 1233.48 L941.58 1233.51 L942 1233.55 L942.42 1233.59 L942.84 1233.64 L943.26 1233.68 L943.68 1233.74 L944.1 1233.79 L944.52 1233.85 L944.94 1233.91 L945.36 1233.97 L945.78 1234.04 L946.2 1234.11 L946.63 1234.19 L947.05 1234.27 L947.47 1234.35 L947.89 1234.44 L948.31 1234.53 L948.73 1234.62 L949.15 1234.72 L949.57 1234.82 L949.99 1234.92 L950.41 1235.03 L950.83 1235.14 L951.25 1235.26 L951.67 1235.38 L952.09 1235.5 L952.51 1235.63 L952.93 1235.76 L953.35 1235.9 L953.77 1236.04 L954.19 1236.18 L954.61 1236.32 L955.03 1236.47 L955.45 1236.62 L955.87 1236.78 L956.29 1236.94 L956.71 1237.1 L957.14 1237.26 L957.56 1237.42 L957.98 1237.59 L958.4 1237.76 L958.82 1237.93 L959.24 1238.1 L959.66 1238.28 L960.08 1238.45 L960.5 1238.63 L960.92 1238.81 L961.34 1238.99 L961.76 1239.17 L962.18 1239.36 L962.6 1239.54 L963.02 1239.73 L963.44 1239.91 L963.86 1240.1 L964.28 1240.28 L964.7 1240.47 L965.12 1240.66 L965.54 1240.84 L965.96 1241.03 L966.38 1241.22 L966.8 1241.4 L967.22 1241.59 L967.65 1241.78 L968.07 1241.96 L968.49 1242.15 L968.91 1242.33 L969.33 1242.52 L969.75 1242.7 L970.17 1242.88 L970.59 1243.06 L971.01 1243.25 L971.43 1243.42 L971.85 1243.6 L972.27 1243.78 L972.69 1243.96 L973.11 1244.13 L973.53 1244.3 L973.95 1244.47 L974.37 1244.64 L974.79 1244.81 L975.21 1244.98 L975.63 1245.14 L976.05 1245.3 L976.47 1245.46 L976.89 1245.62 L977.31 1245.77 L977.73 1245.92 L978.16 1246.07 L978.58 1246.22 L979 1246.37 L979.42 1246.51 L979.84 1246.65 L980.26 1246.78 L980.68 1246.92 L981.1 1247.05 L981.52 1247.18 L981.94 1247.3 L982.36 1247.42 L982.78 1247.54 L983.2 1247.66 L983.62 1247.77 L984.04 1247.88 L984.46 1247.98 L984.88 1248.08 L985.3 1248.18 L985.72 1248.27 L986.14 1248.36 L986.56 1248.45 L986.98 1248.53 L987.4 1248.61 L987.82 1248.69 L988.24 1248.76 L988.67 1248.83 L989.09 1248.89 L989.51 1248.95 L989.93 1249 L990.35 1249.05 L990.77 1249.09 L991.19 1249.13 L991.61 1249.17 L992.03 1249.2 L992.45 1249.23 L992.87 1249.26 L993.29 1249.28" stroke="#0000ff" stroke-width="3.4" fill="none" stroke-linejoin="round" stroke-miterlimit="2" stroke-linecap="butt"/>
<path d="M562.8 1249.2 L563.22 1249.2 L563.64 1249.2 L564.06 1249.2 L564.48 1249.19 L564.9 1249.15 L565.32 1249.12 L565.74 1249.08 L566.16 1249.04 L566.58 1249 L567 1248.96 L567.42 1248.91 L567.84 1248.87 L568.27 1248.82 L568.69 1248.77 L569.11 1248.72 L569.53 1248.67 L569.95 1248.62 L570.37 1248.57 L570.79 1248.51 L571.21 1248.45 L571.63 1248.4 L572.05 1248.34 L572.47 1248.28 L572.89 1248.21 L573.31 1248.15 L573.73 1248.08 L574.15 1248.01 L574.57 1247.94 L574.99 1247.87 L575.41 1247.8 L575.83 1247.73 L576.25 1247.65 L576.67 1247.57 L577.09 1247.49 L577.51 1247.41 L577.93 1247.33 L578.35 1247.24 L578.78 1247.16 L579.2 1247.07 L579.62 1246.98 L580.04 1246.89 L580.46 1246.8 L580.88 1246.71 L581.3 1246.62 L581.72 1246.52 L582.14 1246.43 L582.56 1246.34 L582.98 1246.24 L583.4 1246.15 L583.82 1246.05 L584.24 1245.95 L584.66 1245.86 L585.08 1245.76 L585.5 1245.67 L585.92 1245.57 L586.34 1245.48 L586.76 1245.38 L587.18 1245.29 L587.6 1245.2 L588.02 1245.1 L588.44 1245.01 L588.86 1244.92 L589.29 1244.83 L589.71 1244.74 L590.13 1244.65 L590.55 1244.57 L590.97 1244.48 L591.39 1244.4 L591.81 1244.32 L592.23 1244.24 L592.65 1244.16 L593.07 1244.08 L593.49 1244.01 L593.91 1243.93 L594.33 1243.86 L594.75 1243.79 L595.17 1243.73 L595.59 1243.66 L596.01 1243.6 L596.43 1243.54 L596.85 1243.48 L597.27 1243.43 L597.69 1243.38 L598.11 1243.33 L598.53 1243.28 L598.95 1243.24 L599.37 1243.2 L599.8 1243.16 L600.22 1243.13 L600.64 1243.09 L601.06 1243.07 L601.48 1243.04 L601.9 1243.02 L602.32 1243 L602.74 1242.99 L603.16 1242.98 L603.58 1242.97 L604 1242.97 L604.42 1242.97 L604.84 1242.97 L605.26 1242.98 L605.68 1242.99 L606.1 1243.01 L606.52 1243.03 L606.94 1243.05 L607.36 1243.08 L607.78 1243.11 L608.2 1243.14 L608.62 1243.18 L609.04 1243.22 L609.46 1243.26 L609.88 1243.3 L610.31 1243.35 L610.73 1243.4 L611.15 1243.45 L611.57 1243.5 L611.99 1243.55 L612.41 1243.61 L612.83 1243.66 L613.25 1243.72 L613.67 1243.78 L614.09 1243.84 L614.51 1243.9 L614.93 1243.97 L615.35 1244.03 L615.77 1244.09 L616.19 1244.15 L616.61 1244.22 L617.03 1244.28 L617.45 1244.34 L617.87 1244.41 L618.29 1244.47 L618.71 1244.53 L619.13 1244.59 L619.55 1244.65 L619.97 1244.71 L620.39 1244.77 L620.82 1244.83 L621.24 1244.88 L621.66 1244.94 L622.08 1245 L622.5 1245.05 L622.92 1245.11 L623.34 1245.16 L623.76 1245.22 L624.18 1245.28 L624.6 1245.34 L625.02 1245.4 L625.44 1245.46 L625.86 1245.52 L626.28 1245.58 L626.7 1245.65 L627.12 1245.71 L627.54 1245.78 L627.96 1245.85 L628.38 1245.93 L628.8 1246 L629.22 1246.08 L629.64 1246.17 L630.06 1246.25 L630.48 1246.34 L630.9 1246.43 L631.33 1246.53 L631.75 1246.63 L632.17 1246.73 L632.59 1246.84 L633.01 1246.96 L633.43 1247.08 L633.85 1247.2 L634.27 1247.33 L634.69 1247.46 L635.11 1247.6 L635.53 1247.74 L635.95 1247.89 L636.37 1248.03 L636.79 1248.18 L637.21 1248.31 L637.63 1248.45 L638.05 1248.57 L638.47 1248.69 L638.89 1248.8 L639.31 1248.89 L639.73 1248.96 L640.15 1249.02 L640.57 1249.06 L640.99 1249.08 L641.41 1249.08 L641.84 1249.05 L642.26 1249 L642.68 1248.93 L643.1 1248.83 L643.52 1248.72 L643.94 1248.58 L644.36 1248.44 L644.78 1248.28 L645.2 1248.1 L645.62 1247.92 L646.04 1247.72 L646.46 1247.52 L646.88 1247.32 L647.3 1247.11 L647.72 1246.9 L648.14 1246.68 L648.56 1246.47 L648.98 1246.25 L649.4 1246.03 L649.82 1245.81 L650.24 1245.58 L650.66 1245.36 L651.08 1245.13 L651.5 1244.89 L651.92 1244.66 L652.35 1244.42 L652.77 1244.18 L653.19 1243.93 L653.61 1243.69 L654.03 1243.43 L654.45 1243.18 L654.87 1242.91 L655.29 1242.65 L655.71 1242.37 L656.13 1242.1 L656.55 1241.81 L656.97 1241.52 L657.39 1241.22 L657.81 1240.92 L658.23 1240.6 L658.65 1240.28 L659.07 1239.96 L659.49 1239.62 L659.91 1239.28 L660.33 1238.92 L660.75 1238.57 L661.17 1238.21 L661.59 1237.85 L662.01 1237.48 L662.43 1237.11 L662.86 1236.73 L663.28 1236.36 L663.7 1235.98 L664.12 1235.59 L664.54 1235.21 L664.96 1234.82 L665.38 1234.43 L665.8 1234.04 L666.22 1233.65 L666.64 1233.26 L667.06 1232.87 L667.48 1232.48 L667.9 1232.09 L668.32 1231.7 L668.74 1231.31 L669.16 1230.92 L669.58 1230.54 L670 1230.16 L670.42 1229.79 L670.84 1229.42 L671.26 1229.05 L671.68 1228.69 L672.1 1228.34 L672.52 1227.99 L672.94 1227.65 L673.37 1227.31 L673.79 1226.98 L674.21 1226.66 L674.63 1226.35 L675.05 1226.05 L675.47 1225.75 L675.89 1225.47 L676.31 1225.19 L676.73 1224.92 L677.15 1224.65 L677.57 1224.4 L677.99 1224.15 L678.41 1223.92 L678.83 1223.69 L679.25 1223.47 L679.67 1223.25 L680.09 1223.05 L680.51 1222.85 L680.93 1222.66 L681.35 1222.48 L681.77 1222.31 L682.19 1222.15 L682.61 1221.99 L683.03 1221.84 L683.45 1221.71 L683.88 1221.58 L684.3 1221.46 L684.72 1221.34 L685.14 1221.24 L685.56 1221.15 L685.98 1221.07 L686.4 1220.99 L686.82 1220.93 L687.24 1220.87 L687.66 1220.83 L688.08 1220.79 L688.5 1220.77 L688.92 1220.75 L689.34 1220.75 L689.76 1220.75 L690.18 1220.77 L690.6 1220.8 L691.02 1220.84 L691.44 1220.89 L691.86 1220.95 L692.28 1221.02 L692.7 1221.1 L693.12 1221.2 L693.54 1221.3 L693.96 1221.42 L694.39 1221.55 L694.81 1221.69 L695.23 1221.84 L695.65 1222 L696.07 1222.18 L696.49 1222.37 L696.91 1222.56 L697.33 1222.77 L697.75 1222.99 L698.17 1223.22 L698.59 1223.45 L699.01 1223.69 L699.43 1223.94 L699.85 1224.19 L700.27 1224.45 L700.69 1224.72 L701.11 1224.99 L701.53 1225.26 L701.95 1225.53 L702.37 1225.81 L702.79 1226.09 L703.21 1226.36 L703.63 1226.64 L704.05 1226.92 L704.47 1227.19 L704.9 1227.46 L705.32 1227.72 L705.74 1227.98 L706.16 1228.23 L706.58 1228.48 L707 1228.71 L707.42 1228.94 L707.84 1229.16 L708.26 1229.36 L708.68 1229.55 L709.1 1229.72 L709.52 1229.87 L709.94 1230 L710.36 1230.1 L710.78 1230.18 L711.2 1230.22 L711.62 1230.23 L712.04 1230.21 L712.46 1230.15 L712.88 1230.06 L713.3 1229.93 L713.72 1229.77 L714.14 1229.58 L714.56 1229.35 L714.98 1229.1 L715.41 1228.81 L715.83 1228.5 L716.25 1228.16 L716.67 1227.79 L717.09 1227.38 L717.51 1226.93 L717.93 1226.44 L718.35 1225.9 L718.77 1225.3 L719.19 1224.64 L719.61 1223.93 L720.03 1223.14 L720.45 1222.29 L720.87 1221.38 L721.29 1220.4 L721.71 1219.37 L722.13 1218.29 L722.55 1217.16 L722.97 1215.98 L723.39 1214.76 L723.81 1213.49 L724.23 1212.19 L724.65 1210.85 L725.07 1209.48 L725.49 1208.06 L725.92 1206.61 L726.34 1205.12 L726.76 1203.59 L727.18 1202.02 L727.6 1200.4 L728.02 1198.75 L728.44 1197.06 L728.86 1195.32 L729.28 1193.55 L729.7 1191.73 L730.12 1189.86 L730.54 1187.96 L730.96 1186.01 L731.38 1184.02 L731.8 1181.98 L732.22 1179.9 L732.64 1177.77 L733.06 1175.6 L733.48 1173.39 L733.9 1171.13 L734.32 1168.82 L734.74 1166.47 L735.16 1164.08 L735.58 1161.64 L736 1159.16 L736.43 1156.63 L736.85 1154.06 L737.27 1151.44 L737.69 1148.78 L738.11 1146.08 L738.53 1143.33 L738.95 1140.54 L739.37 1137.71 L739.79 1134.84 L740.21 1131.92 L740.63 1128.97 L741.05 1125.97 L741.47 1122.94 L741.89 1119.87 L742.31 1116.76 L742.73 1113.61 L743.15 1110.43 L743.57 1107.21 L743.99 1103.96 L744.41 1100.68 L744.83 1097.36 L745.25 1094.02 L745.67 1090.64 L746.09 1087.24 L746.51 1083.81 L746.94 1080.36 L747.36 1076.88 L747.78 1073.38 L748.2 1069.86 L748.62 1066.32 L749.04 1062.76 L749.46 1059.18 L749.88 1055.59 L750.3 1051.99 L750.72 1048.38 L751.14 1044.76 L751.56 1041.13 L751.98 1037.5 L752.4 1033.87 L752.82 1030.23 L753.24 1026.6 L753.66 1022.96 L754.08 1019.34 L754.5 1015.72 L754.92 1012.11 L755.34 1008.51 L755.76 1004.93 L756.18 1001.36 L756.6 997.81 L757.02 994.28 L757.45 990.78 L757.87 987.3 L758.29 983.84 L758.71 980.42 L759.13 977.03 L759.55 973.67 L759.97 970.35 L760.39 967.07 L760.81 963.83 L761.23 960.64 L761.65 957.49 L762.07 954.39 L762.49 951.34 L762.91 948.34 L763.33 945.4 L763.75 942.52 L764.17 939.69 L764.59 936.93 L765.01 934.23 L765.43 931.6 L765.85 929.03 L766.27 926.53 L766.69 924.11 L767.11 921.76 L767.53 919.48 L767.96 917.29 L768.38 915.17 L768.8 913.13 L769.22 911.17 L769.64 909.3 L770.06 907.52 L770.48 905.82 L770.9 904.21 L771.32 902.68 L771.74 901.25 L772.16 899.92 L772.58 898.67 L773 897.52 L773.42 896.47 L773.84 895.51 L774.26 894.64 L774.68 893.88 L775.1 893.21 L775.52 892.65 L775.94 892.18 L776.36 891.81 L776.78 891.54 L777.2 891.37 L777.62 891.3 L778.04 891.33 L778.47 891.47 L778.89 891.7 L779.31 892.03 L779.73 892.47 L780.15 893 L780.57 893.63 L780.99 894.36 L781.41 895.18 L781.83 896.11 L782.25 897.13 L782.67 898.25 L783.09 899.46 L783.51 900.76 L783.93 902.16 L784.35 903.65 L784.77 905.23 L785.19 906.89 L785.61 908.65 L786.03 910.49 L786.45 912.42 L786.87 914.43 L787.29 916.51 L787.71 918.68 L788.13 920.93 L788.55 923.26 L788.98 925.65 L789.4 928.13 L789.82 930.67 L790.24 933.28 L790.66 935.95 L791.08 938.69 L791.5 941.5 L791.92 944.36 L792.34 947.28 L792.76 950.26 L793.18 953.29 L793.6 956.37 L794.02 959.5 L794.44 962.68 L794.86 965.9 L795.28 969.17 L795.7 972.47 L796.12 975.82 L796.54 979.2 L796.96 982.61 L797.38 986.05 L797.8 989.52 L798.22 993.02 L798.64 996.54 L799.06 1000.08 L799.49 1003.64 L799.91 1007.22 L800.33 1010.81 L800.75 1014.42 L801.17 1018.04 L801.59 1021.66 L802.01 1025.29 L802.43 1028.92 L802.85 1032.56 L803.27 1036.19 L803.69 1039.83 L804.11 1043.46 L804.53 1047.08 L804.95 1050.7 L805.37 1054.3 L805.79 1057.89 L806.21 1061.47 L806.63 1065.04 L807.05 1068.58 L807.47 1072.11 L807.89 1075.62 L808.31 1079.11 L808.73 1082.57 L809.15 1086.01 L809.57 1089.42 L810 1092.81 L810.42 1096.16 L810.84 1099.49 L811.26 1102.79 L811.68 1106.05 L812.1 1109.28 L812.52 1112.47 L812.94 1115.63 L813.36 1118.75 L813.78 1121.84 L814.2 1124.89 L814.62 1127.9 L815.04 1130.87 L815.46 1133.79 L815.88 1136.68 L816.3 1139.53 L816.72 1142.33 L817.14 1145.09 L817.56 1147.81 L817.98 1150.49 L818.4 1153.12 L818.82 1155.71 L819.24 1158.25 L819.66 1160.75 L820.08 1163.21 L820.51 1165.62 L820.93 1167.98 L821.35 1170.3 L821.77 1172.58 L822.19 1174.81 L822.61 1177 L823.03 1179.14 L823.45 1181.24 L823.87 1183.29 L824.29 1185.3 L824.71 1187.26 L825.13 1189.18 L825.55 1191.06 L825.97 1192.9 L826.39 1194.69 L826.81 1196.44 L827.23 1198.15 L827.65 1199.82 L828.07 1201.44 L828.49 1203.03 L828.91 1204.57 L829.33 1206.08 L829.75 1207.55 L830.17 1208.97 L830.59 1210.36 L831.02 1211.72 L831.44 1213.03 L831.86 1214.31 L832.28 1215.55 L832.7 1216.74 L833.12 1217.89 L833.54 1218.99 L833.96 1220.04 L834.38 1221.03 L834.8 1221.97 L835.22 1222.84 L835.64 1223.65 L836.06 1224.39 L836.48 1225.07 L836.9 1225.69 L837.32 1226.25 L837.74 1226.76 L838.16 1227.22 L838.58 1227.65 L839 1228.03 L839.42 1228.38 L839.84 1228.7 L840.26 1229 L840.68 1229.26 L841.1 1229.5 L841.53 1229.7 L841.95 1229.87 L842.37 1230.01 L842.79 1230.12 L843.21 1230.19 L843.63 1230.23 L844.05 1230.23 L844.47 1230.2 L844.89 1230.13 L845.31 1230.04 L845.73 1229.92 L846.15 1229.78 L846.57 1229.61 L846.99 1229.43 L847.41 1229.23 L847.83 1229.02 L848.25 1228.79 L848.67 1228.56 L849.09 1228.32 L849.51 1228.07 L849.93 1227.81 L850.35 1227.55 L850.77 1227.29 L851.19 1227.01 L851.61 1226.74 L852.04 1226.46 L852.46 1226.19 L852.88 1225.91 L853.3 1225.63 L853.72 1225.36 L854.14 1225.08 L854.56 1224.81 L854.98 1224.55 L855.4 1224.29 L855.82 1224.03 L856.24 1223.78 L856.66 1223.54 L857.08 1223.3 L857.5 1223.07 L857.92 1222.85 L858.34 1222.64 L858.76 1222.44 L859.18 1222.25 L859.6 1222.07 L860.02 1221.9 L860.44 1221.74 L860.86 1221.6 L861.28 1221.46 L861.7 1221.34 L862.12 1221.23 L862.55 1221.13 L862.97 1221.05 L863.39 1220.97 L863.81 1220.91 L864.23 1220.85 L864.65 1220.81 L865.07 1220.78 L865.49 1220.76 L865.91 1220.75 L866.33 1220.75 L866.75 1220.76 L867.17 1220.78 L867.59 1220.81 L868.01 1220.85 L868.43 1220.9 L868.85 1220.97 L869.27 1221.04 L869.69 1221.12 L870.11 1221.21 L870.53 1221.31 L870.95 1221.42 L871.37 1221.53 L871.79 1221.66 L872.21 1221.79 L872.63 1221.94 L873.06 1222.09 L873.48 1222.25 L873.9 1222.42 L874.32 1222.6 L874.74 1222.78 L875.16 1222.97 L875.58 1223.18 L876 1223.39 L876.42 1223.61 L876.84 1223.83 L877.26 1224.07 L877.68 1224.31 L878.1 1224.56 L878.52 1224.82 L878.94 1225.09 L879.36 1225.37 L879.78 1225.65 L880.2 1225.94 L880.62 1226.24 L881.04 1226.55 L881.46 1226.87 L881.88 1227.19 L882.3 1227.52 L882.72 1227.86 L883.14 1228.21 L883.57 1228.56 L883.99 1228.92 L884.41 1229.29 L884.83 1229.65 L885.25 1230.03 L885.67 1230.41 L886.09 1230.79 L886.51 1231.17 L886.93 1231.56 L887.35 1231.95 L887.77 1232.34 L888.19 1232.73 L888.61 1233.12 L889.03 1233.51 L889.45 1233.9 L889.87 1234.29 L890.29 1234.68 L890.71 1235.07 L891.13 1235.46 L891.55 1235.84 L891.97 1236.22 L892.39 1236.6 L892.81 1236.97 L893.23 1237.34 L893.65 1237.71 L894.08 1238.08 L894.5 1238.44 L894.92 1238.8 L895.34 1239.15 L895.76 1239.5 L896.18 1239.84 L896.6 1240.17 L897.02 1240.49 L897.44 1240.8 L897.86 1241.11 L898.28 1241.41 L898.7 1241.71 L899.12 1241.99 L899.54 1242.27 L899.96 1242.55 L900.38 1242.82 L900.8 1243.08 L901.22 1243.34 L901.64 1243.6 L902.06 1243.85 L902.48 1244.09 L902.9 1244.33 L903.32 1244.57 L903.74 1244.81 L904.16 1245.04 L904.59 1245.27 L905.01 1245.5 L905.43 1245.73 L905.85 1245.95 L906.27 1246.17 L906.69 1246.39 L907.11 1246.61 L907.53 1246.82 L907.95 1247.03 L908.37 1247.24 L908.79 1247.45 L909.21 1247.65 L909.63 1247.85 L910.05 1248.04 L910.47 1248.21 L910.89 1248.38 L911.31 1248.53 L911.73 1248.67 L912.15 1248.79 L912.57 1248.89 L912.99 1248.98 L913.41 1249.04 L913.83 1249.07 L914.25 1249.08 L914.67 1249.07 L915.1 1249.04 L915.52 1248.99 L915.94 1248.92 L916.36 1248.83 L916.78 1248.73 L917.2 1248.62 L917.62 1248.49 L918.04 1248.36 L918.46 1248.23 L918.88 1248.08 L919.3 1247.94 L919.72 1247.79 L920.14 1247.65 L920.56 1247.51 L920.98 1247.37 L921.4 1247.24 L921.82 1247.12 L922.24 1247 L922.66 1246.88 L923.08 1246.77 L923.5 1246.67 L923.92 1246.56 L924.34 1246.47 L924.76 1246.37 L925.18 1246.28 L925.61 1246.2 L926.03 1246.11 L926.45 1246.03 L926.87 1245.95 L927.29 1245.88 L927.71 1245.81 L928.13 1245.74 L928.55 1245.67 L928.97 1245.6 L929.39 1245.54 L929.81 1245.48 L930.23 1245.42 L930.65 1245.36 L931.07 1245.3 L931.49 1245.24 L931.91 1245.18 L932.33 1245.13 L932.75 1245.07 L933.17 1245.02 L933.59 1244.96 L934.01 1244.9 L934.43 1244.85 L934.85 1244.79 L935.27 1244.73 L935.69 1244.67 L936.12 1244.61 L936.54 1244.55 L936.96 1244.49 L937.38 1244.43 L937.8 1244.37 L938.22 1244.3 L938.64 1244.24 L939.06 1244.18 L939.48 1244.11 L939.9 1244.05 L940.32 1243.99 L940.74 1243.93 L941.16 1243.86 L941.58 1243.8 L942 1243.74 L942.42 1243.69 L942.84 1243.63 L943.26 1243.57 L943.68 1243.52 L944.1 1243.47 L944.52 1243.41 L944.94 1243.37 L945.36 1243.32 L945.78 1243.27 L946.2 1243.23 L946.63 1243.19 L947.05 1243.16 L947.47 1243.12 L947.89 1243.09 L948.31 1243.06 L948.73 1243.04 L949.15 1243.02 L949.57 1243 L949.99 1242.98 L950.41 1242.97 L950.83 1242.97 L951.25 1242.97 L951.67 1242.97 L952.09 1242.97 L952.51 1242.98 L952.93 1243 L953.35 1243.01 L953.77 1243.03 L954.19 1243.06 L954.61 1243.08 L955.03 1243.11 L955.45 1243.15 L955.87 1243.18 L956.29 1243.22 L956.71 1243.27 L957.14 1243.31 L957.56 1243.36 L957.98 1243.41 L958.4 1243.46 L958.82 1243.52 L959.24 1243.58 L959.66 1243.64 L960.08 1243.7 L960.5 1243.77 L960.92 1243.84 L961.34 1243.91 L961.76 1243.98 L962.18 1244.05 L962.6 1244.13 L963.02 1244.21 L963.44 1244.29 L963.86 1244.37 L964.28 1244.45 L964.7 1244.54 L965.12 1244.62 L965.54 1244.71 L965.96 1244.8 L966.38 1244.89 L966.8 1244.98 L967.22 1245.07 L967.65 1245.16 L968.07 1245.26 L968.49 1245.35 L968.91 1245.44 L969.33 1245.54 L969.75 1245.63 L970.17 1245.73 L970.59 1245.82 L971.01 1245.92 L971.43 1246.02 L971.85 1246.11 L972.27 1246.21 L972.69 1246.3 L973.11 1246.4 L973.53 1246.49 L973.95 1246.58 L974.37 1246.68 L974.79 1246.77 L975.21 1246.86 L975.63 1246.95 L976.05 1247.04 L976.47 1247.13 L976.89 1247.21 L977.31 1247.3 L977.73 1247.38 L978.16 1247.46 L978.58 1247.54 L979 1247.62 L979.42 1247.7 L979.84 1247.77 L980.26 1247.85 L980.68 1247.92 L981.1 1247.99 L981.52 1248.06 L981.94 1248.12 L982.36 1248.19 L982.78 1248.25 L983.2 1248.31 L983.62 1248.38 L984.04 1248.43 L984.46 1248.49 L984.88 1248.55 L985.3 1248.6 L985.72 1248.65 L986.14 1248.71 L986.56 1248.76 L986.98 1248.8 L987.4 1248.85 L987.82 1248.9 L988.24 1248.94 L988.67 1248.98 L989.09 1249.02 L989.51 1249.06 L989.93 1249.1 L990.35 1249.14 L990.77 1249.18 L991.19 1249.2 L991.61 1249.2 L992.03 1249.2 L992.45 1249.2 L992.87 1249.2 L993.29 1249.2" stroke="#ff0000" stroke-width="1.8" fill="none" stroke-linejoin="round" stroke-miterlimit="2" stroke-linecap="butt"/>
<path d="M618.5 1073H733.8" stroke="#000" stroke-width="2" fill="none"/>
<path d="M616.6 1168H734.7" stroke="#000" stroke-width="2" fill="none"/>
<text x="557.5" y="1251.2" font-family='"DejaVu Sans","Liberation Sans",sans-serif' font-size="15" text-anchor="end" >0</text>
<text x="567.5" y="1263.4" font-family='"DejaVu Sans","Liberation Sans",sans-serif' font-size="15" text-anchor="middle" >-1000</text>
<text x="672.6" y="1263.4" font-family='"DejaVu Sans","Liberation Sans",sans-serif' font-size="15" text-anchor="middle" >-500</text>
<text x="777.7" y="1263.4" font-family='"DejaVu Sans","Liberation Sans",sans-serif' font-size="15" text-anchor="middle" >0</text>
<text x="882.8" y="1263.4" font-family='"DejaVu Sans","Liberation Sans",sans-serif' font-size="15" text-anchor="middle" >500</text>
<text x="988.7" y="1263.4" font-family='"DejaVu Sans","Liberation Sans",sans-serif' font-size="15" text-anchor="middle" >1000</text>
<text x="781" y="1285.9" font-family='"DejaVu Sans","Liberation Sans",sans-serif' font-size="17" text-anchor="middle" textLength="123.3" lengthAdjust="spacingAndGlyphs" >Frequency bin</text>
</svg>
</body></html>
